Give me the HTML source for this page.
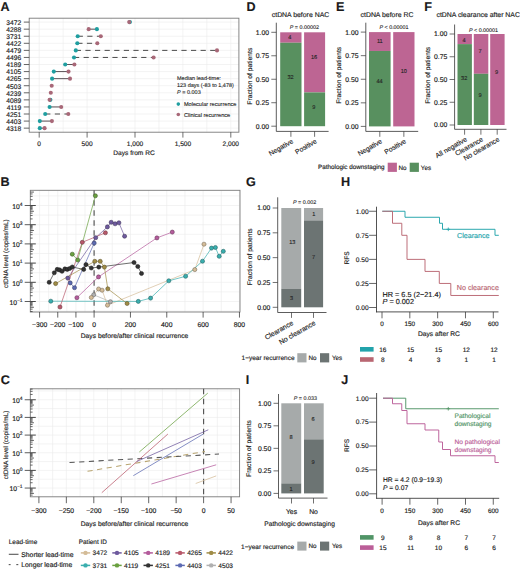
<!DOCTYPE html>
<html><head><meta charset="utf-8"><style>
html,body{margin:0;padding:0;background:#fff;}
svg{display:block;}
text{font-family:"Liberation Sans", sans-serif; text-rendering:geometricPrecision;}
</style></head><body>
<svg width="520" height="572" viewBox="0 0 520 572">
<rect x="0" y="0" width="520" height="572" fill="#ffffff"/>
<text x="0.60" y="11.22" font-size="12.6" text-anchor="start" fill="#1a1a1a" stroke="#1a1a1a" stroke-width="0.15" font-weight="bold">A</text>
<line x1="39.20" y1="18.20" x2="39.20" y2="132.20" stroke="#ebebeb" stroke-width="0.6"/>
<line x1="63.15" y1="18.20" x2="63.15" y2="132.20" stroke="#ebebeb" stroke-width="0.6"/>
<line x1="87.10" y1="18.20" x2="87.10" y2="132.20" stroke="#ebebeb" stroke-width="0.6"/>
<line x1="111.05" y1="18.20" x2="111.05" y2="132.20" stroke="#ebebeb" stroke-width="0.6"/>
<line x1="135.00" y1="18.20" x2="135.00" y2="132.20" stroke="#ebebeb" stroke-width="0.6"/>
<line x1="158.95" y1="18.20" x2="158.95" y2="132.20" stroke="#ebebeb" stroke-width="0.6"/>
<line x1="182.90" y1="18.20" x2="182.90" y2="132.20" stroke="#ebebeb" stroke-width="0.6"/>
<line x1="206.85" y1="18.20" x2="206.85" y2="132.20" stroke="#ebebeb" stroke-width="0.6"/>
<line x1="230.80" y1="18.20" x2="230.80" y2="132.20" stroke="#ebebeb" stroke-width="0.6"/>
<line x1="29.20" y1="22.10" x2="238.90" y2="22.10" stroke="#ebebeb" stroke-width="0.6"/>
<line x1="29.20" y1="29.17" x2="238.90" y2="29.17" stroke="#ebebeb" stroke-width="0.6"/>
<line x1="29.20" y1="36.24" x2="238.90" y2="36.24" stroke="#ebebeb" stroke-width="0.6"/>
<line x1="29.20" y1="43.31" x2="238.90" y2="43.31" stroke="#ebebeb" stroke-width="0.6"/>
<line x1="29.20" y1="50.38" x2="238.90" y2="50.38" stroke="#ebebeb" stroke-width="0.6"/>
<line x1="29.20" y1="57.45" x2="238.90" y2="57.45" stroke="#ebebeb" stroke-width="0.6"/>
<line x1="29.20" y1="64.52" x2="238.90" y2="64.52" stroke="#ebebeb" stroke-width="0.6"/>
<line x1="29.20" y1="71.59" x2="238.90" y2="71.59" stroke="#ebebeb" stroke-width="0.6"/>
<line x1="29.20" y1="78.66" x2="238.90" y2="78.66" stroke="#ebebeb" stroke-width="0.6"/>
<line x1="29.20" y1="85.73" x2="238.90" y2="85.73" stroke="#ebebeb" stroke-width="0.6"/>
<line x1="29.20" y1="92.80" x2="238.90" y2="92.80" stroke="#ebebeb" stroke-width="0.6"/>
<line x1="29.20" y1="99.87" x2="238.90" y2="99.87" stroke="#ebebeb" stroke-width="0.6"/>
<line x1="29.20" y1="106.94" x2="238.90" y2="106.94" stroke="#ebebeb" stroke-width="0.6"/>
<line x1="29.20" y1="114.01" x2="238.90" y2="114.01" stroke="#ebebeb" stroke-width="0.6"/>
<line x1="29.20" y1="121.08" x2="238.90" y2="121.08" stroke="#ebebeb" stroke-width="0.6"/>
<line x1="29.20" y1="128.15" x2="238.90" y2="128.15" stroke="#ebebeb" stroke-width="0.6"/>
<rect x="29.20" y="18.20" width="209.70" height="114.00" fill="none" stroke="#7a7a7a" stroke-width="0.9"/>
<line x1="23.80" y1="22.10" x2="29.20" y2="22.10" stroke="#333333" stroke-width="0.75"/>
<text x="21.20" y="24.90" font-size="6.7" text-anchor="end" fill="#1a1a1a" stroke="#1a1a1a" stroke-width="0.15">3472</text>
<line x1="23.80" y1="29.17" x2="29.20" y2="29.17" stroke="#333333" stroke-width="0.75"/>
<text x="21.20" y="31.97" font-size="6.7" text-anchor="end" fill="#1a1a1a" stroke="#1a1a1a" stroke-width="0.15">4288</text>
<line x1="23.80" y1="36.24" x2="29.20" y2="36.24" stroke="#333333" stroke-width="0.75"/>
<text x="21.20" y="39.04" font-size="6.7" text-anchor="end" fill="#1a1a1a" stroke="#1a1a1a" stroke-width="0.15">3731</text>
<line x1="23.80" y1="43.31" x2="29.20" y2="43.31" stroke="#333333" stroke-width="0.75"/>
<text x="21.20" y="46.11" font-size="6.7" text-anchor="end" fill="#1a1a1a" stroke="#1a1a1a" stroke-width="0.15">4422</text>
<line x1="23.80" y1="50.38" x2="29.20" y2="50.38" stroke="#333333" stroke-width="0.75"/>
<text x="21.20" y="53.18" font-size="6.7" text-anchor="end" fill="#1a1a1a" stroke="#1a1a1a" stroke-width="0.15">4479</text>
<line x1="23.80" y1="57.45" x2="29.20" y2="57.45" stroke="#333333" stroke-width="0.75"/>
<text x="21.20" y="60.25" font-size="6.7" text-anchor="end" fill="#1a1a1a" stroke="#1a1a1a" stroke-width="0.15">4496</text>
<line x1="23.80" y1="64.52" x2="29.20" y2="64.52" stroke="#333333" stroke-width="0.75"/>
<text x="21.20" y="67.32" font-size="6.7" text-anchor="end" fill="#1a1a1a" stroke="#1a1a1a" stroke-width="0.15">4189</text>
<line x1="23.80" y1="71.59" x2="29.20" y2="71.59" stroke="#333333" stroke-width="0.75"/>
<text x="21.20" y="74.39" font-size="6.7" text-anchor="end" fill="#1a1a1a" stroke="#1a1a1a" stroke-width="0.15">4105</text>
<line x1="23.80" y1="78.66" x2="29.20" y2="78.66" stroke="#333333" stroke-width="0.75"/>
<text x="21.20" y="81.46" font-size="6.7" text-anchor="end" fill="#1a1a1a" stroke="#1a1a1a" stroke-width="0.15">4265</text>
<line x1="23.80" y1="85.73" x2="29.20" y2="85.73" stroke="#333333" stroke-width="0.75"/>
<text x="21.20" y="88.53" font-size="6.7" text-anchor="end" fill="#1a1a1a" stroke="#1a1a1a" stroke-width="0.15">4503</text>
<line x1="23.80" y1="92.80" x2="29.20" y2="92.80" stroke="#333333" stroke-width="0.75"/>
<text x="21.20" y="95.60" font-size="6.7" text-anchor="end" fill="#1a1a1a" stroke="#1a1a1a" stroke-width="0.15">4239</text>
<line x1="23.80" y1="99.87" x2="29.20" y2="99.87" stroke="#333333" stroke-width="0.75"/>
<text x="21.20" y="102.67" font-size="6.7" text-anchor="end" fill="#1a1a1a" stroke="#1a1a1a" stroke-width="0.15">4089</text>
<line x1="23.80" y1="106.94" x2="29.20" y2="106.94" stroke="#333333" stroke-width="0.75"/>
<text x="21.20" y="109.74" font-size="6.7" text-anchor="end" fill="#1a1a1a" stroke="#1a1a1a" stroke-width="0.15">4119</text>
<line x1="23.80" y1="114.01" x2="29.20" y2="114.01" stroke="#333333" stroke-width="0.75"/>
<text x="21.20" y="116.81" font-size="6.7" text-anchor="end" fill="#1a1a1a" stroke="#1a1a1a" stroke-width="0.15">4251</text>
<line x1="23.80" y1="121.08" x2="29.20" y2="121.08" stroke="#333333" stroke-width="0.75"/>
<text x="21.20" y="123.88" font-size="6.7" text-anchor="end" fill="#1a1a1a" stroke="#1a1a1a" stroke-width="0.15">4403</text>
<line x1="23.80" y1="128.15" x2="29.20" y2="128.15" stroke="#333333" stroke-width="0.75"/>
<text x="21.20" y="130.95" font-size="6.7" text-anchor="end" fill="#1a1a1a" stroke="#1a1a1a" stroke-width="0.15">4318</text>
<line x1="39.20" y1="132.20" x2="39.20" y2="137.60" stroke="#333333" stroke-width="0.7"/>
<text x="39.20" y="145.76" font-size="6.6" text-anchor="middle" fill="#1a1a1a" stroke="#1a1a1a" stroke-width="0.15">0</text>
<line x1="87.10" y1="132.20" x2="87.10" y2="137.60" stroke="#333333" stroke-width="0.7"/>
<text x="87.10" y="145.76" font-size="6.6" text-anchor="middle" fill="#1a1a1a" stroke="#1a1a1a" stroke-width="0.15">500</text>
<line x1="135.00" y1="132.20" x2="135.00" y2="137.60" stroke="#333333" stroke-width="0.7"/>
<text x="135.00" y="145.76" font-size="6.6" text-anchor="middle" fill="#1a1a1a" stroke="#1a1a1a" stroke-width="0.15">1,000</text>
<line x1="182.90" y1="132.20" x2="182.90" y2="137.60" stroke="#333333" stroke-width="0.7"/>
<text x="182.90" y="145.76" font-size="6.6" text-anchor="middle" fill="#1a1a1a" stroke="#1a1a1a" stroke-width="0.15">1,500</text>
<line x1="230.80" y1="132.20" x2="230.80" y2="137.60" stroke="#333333" stroke-width="0.7"/>
<text x="230.80" y="145.76" font-size="6.6" text-anchor="middle" fill="#1a1a1a" stroke="#1a1a1a" stroke-width="0.15">2,000</text>
<text x="134.00" y="154.96" font-size="6.6" text-anchor="middle" fill="#1a1a1a" stroke="#1a1a1a" stroke-width="0.15">Days from RC</text>
<line x1="96.90" y1="29.17" x2="88.70" y2="29.17" stroke="#5a5055" stroke-width="1.0"/>
<line x1="77.70" y1="36.24" x2="100.80" y2="36.24" stroke="#4a4a4a" stroke-width="1.0" stroke-dasharray="5.2,4.4"/>
<line x1="77.30" y1="43.31" x2="97.30" y2="43.31" stroke="#4a4a4a" stroke-width="1.0" stroke-dasharray="5.2,4.4"/>
<line x1="75.80" y1="50.38" x2="217.00" y2="50.38" stroke="#4a4a4a" stroke-width="1.0" stroke-dasharray="5.2,4.4"/>
<line x1="74.00" y1="57.45" x2="153.60" y2="57.45" stroke="#4a4a4a" stroke-width="1.0" stroke-dasharray="5.2,4.4"/>
<line x1="65.20" y1="64.52" x2="74.40" y2="64.52" stroke="#5a5055" stroke-width="1.0"/>
<line x1="53.80" y1="71.59" x2="68.50" y2="71.59" stroke="#5a5055" stroke-width="1.0"/>
<line x1="52.10" y1="78.66" x2="70.00" y2="78.66" stroke="#5a5055" stroke-width="1.0"/>
<line x1="49.60" y1="106.94" x2="61.20" y2="106.94" stroke="#5a5055" stroke-width="1.0"/>
<line x1="45.20" y1="114.01" x2="68.30" y2="114.01" stroke="#4a4a4a" stroke-width="1.0" stroke-dasharray="5.2,4.4"/>
<line x1="39.80" y1="121.08" x2="51.90" y2="121.08" stroke="#5a5055" stroke-width="1.0"/>
<line x1="39.80" y1="128.15" x2="44.60" y2="128.15" stroke="#5a5055" stroke-width="1.0"/>
<circle cx="129.90" cy="22.10" r="2.05" fill="#1f9ea0"/>
<circle cx="129.20" cy="22.10" r="2.05" fill="#a86878"/>
<circle cx="96.90" cy="29.17" r="2.05" fill="#1f9ea0"/>
<circle cx="88.70" cy="29.17" r="2.05" fill="#a86878"/>
<circle cx="77.70" cy="36.24" r="2.05" fill="#1f9ea0"/>
<circle cx="100.80" cy="36.24" r="2.05" fill="#a86878"/>
<circle cx="77.30" cy="43.31" r="2.05" fill="#1f9ea0"/>
<circle cx="97.30" cy="43.31" r="2.05" fill="#a86878"/>
<circle cx="75.80" cy="50.38" r="2.05" fill="#1f9ea0"/>
<circle cx="217.00" cy="50.38" r="2.05" fill="#a86878"/>
<circle cx="74.00" cy="57.45" r="2.05" fill="#1f9ea0"/>
<circle cx="153.60" cy="57.45" r="2.05" fill="#a86878"/>
<circle cx="65.20" cy="64.52" r="2.05" fill="#1f9ea0"/>
<circle cx="74.40" cy="64.52" r="2.05" fill="#a86878"/>
<circle cx="53.80" cy="71.59" r="2.05" fill="#1f9ea0"/>
<circle cx="68.50" cy="71.59" r="2.05" fill="#a86878"/>
<circle cx="52.10" cy="78.66" r="2.05" fill="#1f9ea0"/>
<circle cx="70.00" cy="78.66" r="2.05" fill="#a86878"/>
<circle cx="51.70" cy="85.73" r="2.05" fill="#a86878"/>
<circle cx="50.80" cy="92.80" r="2.05" fill="#a86878"/>
<circle cx="50.40" cy="99.87" r="2.05" fill="#1f9ea0"/>
<circle cx="49.60" cy="99.87" r="2.05" fill="#a86878"/>
<circle cx="49.60" cy="106.94" r="2.05" fill="#1f9ea0"/>
<circle cx="61.20" cy="106.94" r="2.05" fill="#a86878"/>
<circle cx="45.20" cy="114.01" r="2.05" fill="#1f9ea0"/>
<circle cx="68.30" cy="114.01" r="2.05" fill="#a86878"/>
<circle cx="39.80" cy="121.08" r="2.05" fill="#1f9ea0"/>
<circle cx="51.90" cy="121.08" r="2.05" fill="#a86878"/>
<circle cx="39.80" cy="128.15" r="2.05" fill="#1f9ea0"/>
<circle cx="44.60" cy="128.15" r="2.05" fill="#a86878"/>
<text x="177.00" y="80.27" font-size="5.5" text-anchor="start" fill="#1a1a1a" stroke="#1a1a1a" stroke-width="0.1">Median lead-time:</text>
<text x="177.00" y="87.17" font-size="5.5" text-anchor="start" fill="#1a1a1a" stroke="#1a1a1a" stroke-width="0.1">123 days (-83 to 1,478)</text>
<text x="177.00" y="94.07" font-size="5.5" fill="#1a1a1a" stroke="#1a1a1a" stroke-width="0.1"><tspan font-style="italic">P</tspan> = 0.003</text>
<circle cx="178.30" cy="104.10" r="1.8" fill="#1f9ea0"/>
<text x="183.90" y="106.10" font-size="5.6" text-anchor="start" fill="#1a1a1a" stroke="#1a1a1a" stroke-width="0.1">Molecular recurrence</text>
<circle cx="178.30" cy="114.50" r="1.8" fill="#a86878"/>
<text x="183.90" y="116.50" font-size="5.6" text-anchor="start" fill="#1a1a1a" stroke="#1a1a1a" stroke-width="0.1">Clinical recurrence</text>
<text x="246.40" y="11.22" font-size="12.6" text-anchor="start" fill="#1a1a1a" stroke="#1a1a1a" stroke-width="0.15" font-weight="bold">D</text>
<text x="300.50" y="16.87" font-size="6.9" text-anchor="middle" fill="#1a1a1a" stroke="#1a1a1a" stroke-width="0.15">ctDNA before NAC</text>
<text x="252.20" y="76.20" font-size="6.7" text-anchor="middle" fill="#1a1a1a" stroke="#1a1a1a" stroke-width="0.15" transform="rotate(-90 252.20 76.20)">Fraction of patients</text>
<rect x="280.20" y="32.30" width="21.30" height="10.43" fill="#bd6593"/>
<rect x="280.20" y="42.73" width="21.30" height="83.47" fill="#58905f"/>
<text x="289.80" y="38.60" font-size="5.6" text-anchor="middle" fill="#222" stroke="#222" stroke-width="0.1">4</text>
<text x="290.60" y="79.00" font-size="5.6" text-anchor="middle" fill="#222" stroke="#222" stroke-width="0.1">32</text>
<rect x="304.10" y="32.30" width="21.00" height="60.10" fill="#bd6593"/>
<rect x="304.10" y="92.40" width="21.00" height="33.80" fill="#58905f"/>
<text x="314.00" y="58.70" font-size="5.6" text-anchor="middle" fill="#222" stroke="#222" stroke-width="0.1">16</text>
<text x="313.80" y="109.00" font-size="5.6" text-anchor="middle" fill="#222" stroke="#222" stroke-width="0.1">9</text>
<line x1="276.30" y1="22.70" x2="276.30" y2="131.40" stroke="#333333" stroke-width="0.8"/>
<line x1="276.30" y1="131.40" x2="328.60" y2="131.40" stroke="#333333" stroke-width="0.8"/>
<line x1="271.30" y1="126.20" x2="276.30" y2="126.20" stroke="#333333" stroke-width="0.7"/>
<text x="269.00" y="128.63" font-size="6.8" text-anchor="end" fill="#1a1a1a" stroke="#1a1a1a" stroke-width="0.15">0.00</text>
<line x1="271.30" y1="102.72" x2="276.30" y2="102.72" stroke="#333333" stroke-width="0.7"/>
<text x="269.00" y="105.16" font-size="6.8" text-anchor="end" fill="#1a1a1a" stroke="#1a1a1a" stroke-width="0.15">0.25</text>
<line x1="271.30" y1="79.25" x2="276.30" y2="79.25" stroke="#333333" stroke-width="0.7"/>
<text x="269.00" y="81.68" font-size="6.8" text-anchor="end" fill="#1a1a1a" stroke="#1a1a1a" stroke-width="0.15">0.50</text>
<line x1="271.30" y1="55.77" x2="276.30" y2="55.77" stroke="#333333" stroke-width="0.7"/>
<text x="269.00" y="58.21" font-size="6.8" text-anchor="end" fill="#1a1a1a" stroke="#1a1a1a" stroke-width="0.15">0.75</text>
<line x1="271.30" y1="32.30" x2="276.30" y2="32.30" stroke="#333333" stroke-width="0.7"/>
<text x="269.00" y="34.73" font-size="6.8" text-anchor="end" fill="#1a1a1a" stroke="#1a1a1a" stroke-width="0.15">1.00</text>
<line x1="290.90" y1="131.40" x2="290.90" y2="136.80" stroke="#333333" stroke-width="0.7"/>
<line x1="314.60" y1="131.40" x2="314.60" y2="136.80" stroke="#333333" stroke-width="0.7"/>
<text x="304.40" y="28.83" font-size="5.4" text-anchor="middle" fill="#1a1a1a" stroke="#1a1a1a" stroke-width="0.1"><tspan font-style="italic">P</tspan> = 0.00002</text>
<text x="293.73" y="142.62" font-size="6.8" text-anchor="end" fill="#1a1a1a" stroke="#1a1a1a" stroke-width="0.15" transform="rotate(-30 293.73 142.62)" >Negative</text>
<text x="317.33" y="142.62" font-size="6.8" text-anchor="end" fill="#1a1a1a" stroke="#1a1a1a" stroke-width="0.15" transform="rotate(-30 317.33 142.62)" >Positive</text>
<text x="336.00" y="11.22" font-size="12.6" text-anchor="start" fill="#1a1a1a" stroke="#1a1a1a" stroke-width="0.15" font-weight="bold">E</text>
<text x="387.00" y="17.47" font-size="6.9" text-anchor="middle" fill="#1a1a1a" stroke="#1a1a1a" stroke-width="0.15">ctDNA before RC</text>
<text x="340.80" y="75.30" font-size="6.7" text-anchor="middle" fill="#1a1a1a" stroke="#1a1a1a" stroke-width="0.15" transform="rotate(-90 340.80 75.30)">Fraction of patients</text>
<rect x="369.00" y="32.10" width="21.60" height="18.86" fill="#bd6593"/>
<rect x="369.00" y="50.96" width="21.60" height="75.44" fill="#58905f"/>
<text x="379.80" y="42.70" font-size="5.6" text-anchor="middle" fill="#222" stroke="#222" stroke-width="0.1">11</text>
<text x="379.60" y="83.20" font-size="5.6" text-anchor="middle" fill="#222" stroke="#222" stroke-width="0.1">44</text>
<rect x="393.20" y="32.10" width="21.30" height="94.30" fill="#bd6593"/>
<text x="403.80" y="72.80" font-size="5.6" text-anchor="middle" fill="#222" stroke="#222" stroke-width="0.1">10</text>
<line x1="365.80" y1="22.70" x2="365.80" y2="131.40" stroke="#333333" stroke-width="0.8"/>
<line x1="365.80" y1="131.40" x2="418.20" y2="131.40" stroke="#333333" stroke-width="0.8"/>
<line x1="360.80" y1="126.40" x2="365.80" y2="126.40" stroke="#333333" stroke-width="0.7"/>
<text x="358.50" y="128.83" font-size="6.8" text-anchor="end" fill="#1a1a1a" stroke="#1a1a1a" stroke-width="0.15">0.00</text>
<line x1="360.80" y1="102.83" x2="365.80" y2="102.83" stroke="#333333" stroke-width="0.7"/>
<text x="358.50" y="105.26" font-size="6.8" text-anchor="end" fill="#1a1a1a" stroke="#1a1a1a" stroke-width="0.15">0.25</text>
<line x1="360.80" y1="79.25" x2="365.80" y2="79.25" stroke="#333333" stroke-width="0.7"/>
<text x="358.50" y="81.68" font-size="6.8" text-anchor="end" fill="#1a1a1a" stroke="#1a1a1a" stroke-width="0.15">0.50</text>
<line x1="360.80" y1="55.67" x2="365.80" y2="55.67" stroke="#333333" stroke-width="0.7"/>
<text x="358.50" y="58.11" font-size="6.8" text-anchor="end" fill="#1a1a1a" stroke="#1a1a1a" stroke-width="0.15">0.75</text>
<line x1="360.80" y1="32.10" x2="365.80" y2="32.10" stroke="#333333" stroke-width="0.7"/>
<text x="358.50" y="34.53" font-size="6.8" text-anchor="end" fill="#1a1a1a" stroke="#1a1a1a" stroke-width="0.15">1.00</text>
<line x1="379.80" y1="131.40" x2="379.80" y2="136.80" stroke="#333333" stroke-width="0.7"/>
<line x1="403.85" y1="131.40" x2="403.85" y2="136.80" stroke="#333333" stroke-width="0.7"/>
<text x="394.00" y="29.13" font-size="5.4" text-anchor="middle" fill="#1a1a1a" stroke="#1a1a1a" stroke-width="0.1"><tspan font-style="italic">P</tspan> &lt; 0.00001</text>
<text x="382.63" y="142.62" font-size="6.8" text-anchor="end" fill="#1a1a1a" stroke="#1a1a1a" stroke-width="0.15" transform="rotate(-30 382.63 142.62)" >Negative</text>
<text x="406.63" y="142.62" font-size="6.8" text-anchor="end" fill="#1a1a1a" stroke="#1a1a1a" stroke-width="0.15" transform="rotate(-30 406.63 142.62)" >Positive</text>
<text x="424.20" y="11.22" font-size="12.6" text-anchor="start" fill="#1a1a1a" stroke="#1a1a1a" stroke-width="0.15" font-weight="bold">F</text>
<text x="478.20" y="16.87" font-size="6.9" text-anchor="middle" fill="#1a1a1a" stroke="#1a1a1a" stroke-width="0.15">ctDNA clearance after NAC</text>
<text x="429.60" y="75.30" font-size="6.7" text-anchor="middle" fill="#1a1a1a" stroke="#1a1a1a" stroke-width="0.15" transform="rotate(-90 429.60 75.30)">Fraction of patients</text>
<rect x="457.50" y="34.00" width="14.40" height="10.11" fill="#bd6593"/>
<rect x="457.50" y="44.11" width="14.40" height="80.89" fill="#58905f"/>
<text x="464.00" y="41.60" font-size="5.6" text-anchor="middle" fill="#222" stroke="#222" stroke-width="0.1">4</text>
<text x="464.20" y="79.70" font-size="5.6" text-anchor="middle" fill="#222" stroke="#222" stroke-width="0.1">32</text>
<rect x="473.80" y="34.00" width="14.50" height="39.81" fill="#bd6593"/>
<rect x="473.80" y="73.81" width="14.50" height="51.19" fill="#58905f"/>
<text x="480.00" y="53.00" font-size="5.6" text-anchor="middle" fill="#222" stroke="#222" stroke-width="0.1">7</text>
<text x="480.00" y="97.20" font-size="5.6" text-anchor="middle" fill="#222" stroke="#222" stroke-width="0.1">9</text>
<rect x="490.20" y="34.00" width="14.40" height="91.00" fill="#bd6593"/>
<text x="496.50" y="73.50" font-size="5.6" text-anchor="middle" fill="#222" stroke="#222" stroke-width="0.1">9</text>
<line x1="454.60" y1="24.50" x2="454.60" y2="129.30" stroke="#333333" stroke-width="0.8"/>
<line x1="454.60" y1="129.30" x2="506.50" y2="129.30" stroke="#333333" stroke-width="0.8"/>
<line x1="449.60" y1="125.00" x2="454.60" y2="125.00" stroke="#333333" stroke-width="0.7"/>
<text x="447.30" y="127.43" font-size="6.8" text-anchor="end" fill="#1a1a1a" stroke="#1a1a1a" stroke-width="0.15">0.00</text>
<line x1="449.60" y1="102.25" x2="454.60" y2="102.25" stroke="#333333" stroke-width="0.7"/>
<text x="447.30" y="104.68" font-size="6.8" text-anchor="end" fill="#1a1a1a" stroke="#1a1a1a" stroke-width="0.15">0.25</text>
<line x1="449.60" y1="79.50" x2="454.60" y2="79.50" stroke="#333333" stroke-width="0.7"/>
<text x="447.30" y="81.93" font-size="6.8" text-anchor="end" fill="#1a1a1a" stroke="#1a1a1a" stroke-width="0.15">0.50</text>
<line x1="449.60" y1="56.75" x2="454.60" y2="56.75" stroke="#333333" stroke-width="0.7"/>
<text x="447.30" y="59.18" font-size="6.8" text-anchor="end" fill="#1a1a1a" stroke="#1a1a1a" stroke-width="0.15">0.75</text>
<line x1="449.60" y1="34.00" x2="454.60" y2="34.00" stroke="#333333" stroke-width="0.7"/>
<text x="447.30" y="36.43" font-size="6.8" text-anchor="end" fill="#1a1a1a" stroke="#1a1a1a" stroke-width="0.15">1.00</text>
<line x1="464.60" y1="129.30" x2="464.60" y2="134.70" stroke="#333333" stroke-width="0.7"/>
<line x1="480.90" y1="129.30" x2="480.90" y2="134.70" stroke="#333333" stroke-width="0.7"/>
<line x1="497.20" y1="129.30" x2="497.20" y2="134.70" stroke="#333333" stroke-width="0.7"/>
<text x="483.50" y="31.73" font-size="5.4" text-anchor="middle" fill="#1a1a1a" stroke="#1a1a1a" stroke-width="0.1"><tspan font-style="italic">P</tspan> &lt; 0.00001</text>
<text x="467.43" y="140.62" font-size="6.8" text-anchor="end" fill="#1a1a1a" stroke="#1a1a1a" stroke-width="0.15" transform="rotate(-30 467.43 140.62)" >All negative</text>
<text x="483.63" y="140.62" font-size="6.8" text-anchor="end" fill="#1a1a1a" stroke="#1a1a1a" stroke-width="0.15" transform="rotate(-30 483.63 140.62)" >Clearance</text>
<text x="500.03" y="140.62" font-size="6.8" text-anchor="end" fill="#1a1a1a" stroke="#1a1a1a" stroke-width="0.15" transform="rotate(-30 500.03 140.62)" >No clearance</text>
<text x="384.60" y="169.46" font-size="6.3" text-anchor="end" fill="#1a1a1a" stroke="#1a1a1a" stroke-width="0.15">Pathologic downstaging</text>
<rect x="387.70" y="162.70" width="9.20" height="9.20" fill="#bd6593"/>
<text x="398.50" y="169.56" font-size="6.3" text-anchor="start" fill="#1a1a1a" stroke="#1a1a1a" stroke-width="0.15">No</text>
<rect x="409.70" y="162.70" width="9.20" height="9.20" fill="#58905f"/>
<text x="420.80" y="169.56" font-size="6.3" text-anchor="start" fill="#1a1a1a" stroke="#1a1a1a" stroke-width="0.15">Yes</text>
<text x="0.60" y="186.32" font-size="12.6" text-anchor="start" fill="#1a1a1a" stroke="#1a1a1a" stroke-width="0.15" font-weight="bold">B</text>
<line x1="39.59" y1="190.30" x2="39.59" y2="312.00" stroke="#ebebeb" stroke-width="0.6"/>
<line x1="48.67" y1="190.30" x2="48.67" y2="312.00" stroke="#ebebeb" stroke-width="0.6"/>
<line x1="57.76" y1="190.30" x2="57.76" y2="312.00" stroke="#ebebeb" stroke-width="0.6"/>
<line x1="66.84" y1="190.30" x2="66.84" y2="312.00" stroke="#ebebeb" stroke-width="0.6"/>
<line x1="75.93" y1="190.30" x2="75.93" y2="312.00" stroke="#ebebeb" stroke-width="0.6"/>
<line x1="85.01" y1="190.30" x2="85.01" y2="312.00" stroke="#ebebeb" stroke-width="0.6"/>
<line x1="94.10" y1="190.30" x2="94.10" y2="312.00" stroke="#ebebeb" stroke-width="0.6"/>
<line x1="112.27" y1="190.30" x2="112.27" y2="312.00" stroke="#ebebeb" stroke-width="0.6"/>
<line x1="130.44" y1="190.30" x2="130.44" y2="312.00" stroke="#ebebeb" stroke-width="0.6"/>
<line x1="148.61" y1="190.30" x2="148.61" y2="312.00" stroke="#ebebeb" stroke-width="0.6"/>
<line x1="166.78" y1="190.30" x2="166.78" y2="312.00" stroke="#ebebeb" stroke-width="0.6"/>
<line x1="184.95" y1="190.30" x2="184.95" y2="312.00" stroke="#ebebeb" stroke-width="0.6"/>
<line x1="203.12" y1="190.30" x2="203.12" y2="312.00" stroke="#ebebeb" stroke-width="0.6"/>
<line x1="221.29" y1="190.30" x2="221.29" y2="312.00" stroke="#ebebeb" stroke-width="0.6"/>
<line x1="239.46" y1="190.30" x2="239.46" y2="312.00" stroke="#ebebeb" stroke-width="0.6"/>
<line x1="30.30" y1="311.10" x2="240.00" y2="311.10" stroke="#ebebeb" stroke-width="0.6"/>
<line x1="30.30" y1="301.50" x2="240.00" y2="301.50" stroke="#ebebeb" stroke-width="0.6"/>
<line x1="30.30" y1="291.90" x2="240.00" y2="291.90" stroke="#ebebeb" stroke-width="0.6"/>
<line x1="30.30" y1="282.30" x2="240.00" y2="282.30" stroke="#ebebeb" stroke-width="0.6"/>
<line x1="30.30" y1="272.70" x2="240.00" y2="272.70" stroke="#ebebeb" stroke-width="0.6"/>
<line x1="30.30" y1="263.10" x2="240.00" y2="263.10" stroke="#ebebeb" stroke-width="0.6"/>
<line x1="30.30" y1="253.50" x2="240.00" y2="253.50" stroke="#ebebeb" stroke-width="0.6"/>
<line x1="30.30" y1="243.90" x2="240.00" y2="243.90" stroke="#ebebeb" stroke-width="0.6"/>
<line x1="30.30" y1="234.30" x2="240.00" y2="234.30" stroke="#ebebeb" stroke-width="0.6"/>
<line x1="30.30" y1="224.70" x2="240.00" y2="224.70" stroke="#ebebeb" stroke-width="0.6"/>
<line x1="30.30" y1="215.10" x2="240.00" y2="215.10" stroke="#ebebeb" stroke-width="0.6"/>
<line x1="30.30" y1="205.50" x2="240.00" y2="205.50" stroke="#ebebeb" stroke-width="0.6"/>
<line x1="30.30" y1="195.90" x2="240.00" y2="195.90" stroke="#ebebeb" stroke-width="0.6"/>
<rect x="30.30" y="190.30" width="209.70" height="121.70" fill="none" stroke="#7a7a7a" stroke-width="0.9"/>
<line x1="30.30" y1="311.54" x2="32.60" y2="311.54" stroke="#333333" stroke-width="0.75"/>
<line x1="30.30" y1="309.14" x2="32.60" y2="309.14" stroke="#333333" stroke-width="0.75"/>
<line x1="30.30" y1="307.28" x2="33.90" y2="307.28" stroke="#333333" stroke-width="0.8"/>
<line x1="30.30" y1="305.76" x2="32.60" y2="305.76" stroke="#333333" stroke-width="0.75"/>
<line x1="30.30" y1="304.47" x2="32.60" y2="304.47" stroke="#333333" stroke-width="0.75"/>
<line x1="30.30" y1="303.36" x2="32.60" y2="303.36" stroke="#333333" stroke-width="0.75"/>
<line x1="30.30" y1="302.38" x2="32.60" y2="302.38" stroke="#333333" stroke-width="0.75"/>
<line x1="30.30" y1="301.50" x2="35.80" y2="301.50" stroke="#333333" stroke-width="0.9"/>
<line x1="30.30" y1="295.72" x2="32.60" y2="295.72" stroke="#333333" stroke-width="0.75"/>
<line x1="30.30" y1="292.34" x2="32.60" y2="292.34" stroke="#333333" stroke-width="0.75"/>
<line x1="30.30" y1="289.94" x2="32.60" y2="289.94" stroke="#333333" stroke-width="0.75"/>
<line x1="30.30" y1="288.08" x2="33.90" y2="288.08" stroke="#333333" stroke-width="0.8"/>
<line x1="30.30" y1="286.56" x2="32.60" y2="286.56" stroke="#333333" stroke-width="0.75"/>
<line x1="30.30" y1="285.27" x2="32.60" y2="285.27" stroke="#333333" stroke-width="0.75"/>
<line x1="30.30" y1="284.16" x2="32.60" y2="284.16" stroke="#333333" stroke-width="0.75"/>
<line x1="30.30" y1="283.18" x2="32.60" y2="283.18" stroke="#333333" stroke-width="0.75"/>
<line x1="30.30" y1="282.30" x2="35.80" y2="282.30" stroke="#333333" stroke-width="0.9"/>
<line x1="30.30" y1="276.52" x2="32.60" y2="276.52" stroke="#333333" stroke-width="0.75"/>
<line x1="30.30" y1="273.14" x2="32.60" y2="273.14" stroke="#333333" stroke-width="0.75"/>
<line x1="30.30" y1="270.74" x2="32.60" y2="270.74" stroke="#333333" stroke-width="0.75"/>
<line x1="30.30" y1="268.88" x2="33.90" y2="268.88" stroke="#333333" stroke-width="0.8"/>
<line x1="30.30" y1="267.36" x2="32.60" y2="267.36" stroke="#333333" stroke-width="0.75"/>
<line x1="30.30" y1="266.07" x2="32.60" y2="266.07" stroke="#333333" stroke-width="0.75"/>
<line x1="30.30" y1="264.96" x2="32.60" y2="264.96" stroke="#333333" stroke-width="0.75"/>
<line x1="30.30" y1="263.98" x2="32.60" y2="263.98" stroke="#333333" stroke-width="0.75"/>
<line x1="30.30" y1="263.10" x2="35.80" y2="263.10" stroke="#333333" stroke-width="0.9"/>
<line x1="30.30" y1="257.32" x2="32.60" y2="257.32" stroke="#333333" stroke-width="0.75"/>
<line x1="30.30" y1="253.94" x2="32.60" y2="253.94" stroke="#333333" stroke-width="0.75"/>
<line x1="30.30" y1="251.54" x2="32.60" y2="251.54" stroke="#333333" stroke-width="0.75"/>
<line x1="30.30" y1="249.68" x2="33.90" y2="249.68" stroke="#333333" stroke-width="0.8"/>
<line x1="30.30" y1="248.16" x2="32.60" y2="248.16" stroke="#333333" stroke-width="0.75"/>
<line x1="30.30" y1="246.87" x2="32.60" y2="246.87" stroke="#333333" stroke-width="0.75"/>
<line x1="30.30" y1="245.76" x2="32.60" y2="245.76" stroke="#333333" stroke-width="0.75"/>
<line x1="30.30" y1="244.78" x2="32.60" y2="244.78" stroke="#333333" stroke-width="0.75"/>
<line x1="30.30" y1="243.90" x2="35.80" y2="243.90" stroke="#333333" stroke-width="0.9"/>
<line x1="30.30" y1="238.12" x2="32.60" y2="238.12" stroke="#333333" stroke-width="0.75"/>
<line x1="30.30" y1="234.74" x2="32.60" y2="234.74" stroke="#333333" stroke-width="0.75"/>
<line x1="30.30" y1="232.34" x2="32.60" y2="232.34" stroke="#333333" stroke-width="0.75"/>
<line x1="30.30" y1="230.48" x2="33.90" y2="230.48" stroke="#333333" stroke-width="0.8"/>
<line x1="30.30" y1="228.96" x2="32.60" y2="228.96" stroke="#333333" stroke-width="0.75"/>
<line x1="30.30" y1="227.67" x2="32.60" y2="227.67" stroke="#333333" stroke-width="0.75"/>
<line x1="30.30" y1="226.56" x2="32.60" y2="226.56" stroke="#333333" stroke-width="0.75"/>
<line x1="30.30" y1="225.58" x2="32.60" y2="225.58" stroke="#333333" stroke-width="0.75"/>
<line x1="30.30" y1="224.70" x2="35.80" y2="224.70" stroke="#333333" stroke-width="0.9"/>
<line x1="30.30" y1="218.92" x2="32.60" y2="218.92" stroke="#333333" stroke-width="0.75"/>
<line x1="30.30" y1="215.54" x2="32.60" y2="215.54" stroke="#333333" stroke-width="0.75"/>
<line x1="30.30" y1="213.14" x2="32.60" y2="213.14" stroke="#333333" stroke-width="0.75"/>
<line x1="30.30" y1="211.28" x2="33.90" y2="211.28" stroke="#333333" stroke-width="0.8"/>
<line x1="30.30" y1="209.76" x2="32.60" y2="209.76" stroke="#333333" stroke-width="0.75"/>
<line x1="30.30" y1="208.47" x2="32.60" y2="208.47" stroke="#333333" stroke-width="0.75"/>
<line x1="30.30" y1="207.36" x2="32.60" y2="207.36" stroke="#333333" stroke-width="0.75"/>
<line x1="30.30" y1="206.38" x2="32.60" y2="206.38" stroke="#333333" stroke-width="0.75"/>
<line x1="30.30" y1="205.50" x2="35.80" y2="205.50" stroke="#333333" stroke-width="0.9"/>
<line x1="30.30" y1="199.72" x2="32.60" y2="199.72" stroke="#333333" stroke-width="0.75"/>
<line x1="30.30" y1="196.34" x2="32.60" y2="196.34" stroke="#333333" stroke-width="0.75"/>
<line x1="30.30" y1="193.94" x2="32.60" y2="193.94" stroke="#333333" stroke-width="0.75"/>
<line x1="30.30" y1="192.08" x2="33.90" y2="192.08" stroke="#333333" stroke-width="0.8"/>
<line x1="24.70" y1="301.50" x2="30.30" y2="301.50" stroke="#333333" stroke-width="0.8"/>
<text x="22.60" y="304.73" font-size="6.8" text-anchor="end" fill="#1a1a1a" stroke="#1a1a1a" stroke-width="0.15">10<tspan font-size="4.90" dy="-2.9">−1</tspan></text>
<line x1="24.70" y1="282.30" x2="30.30" y2="282.30" stroke="#333333" stroke-width="0.8"/>
<text x="22.60" y="285.53" font-size="6.8" text-anchor="end" fill="#1a1a1a" stroke="#1a1a1a" stroke-width="0.15">10<tspan font-size="4.90" dy="-2.9">0</tspan></text>
<line x1="24.70" y1="263.10" x2="30.30" y2="263.10" stroke="#333333" stroke-width="0.8"/>
<text x="22.60" y="266.33" font-size="6.8" text-anchor="end" fill="#1a1a1a" stroke="#1a1a1a" stroke-width="0.15">10<tspan font-size="4.90" dy="-2.9">1</tspan></text>
<line x1="24.70" y1="243.90" x2="30.30" y2="243.90" stroke="#333333" stroke-width="0.8"/>
<text x="22.60" y="247.13" font-size="6.8" text-anchor="end" fill="#1a1a1a" stroke="#1a1a1a" stroke-width="0.15">10<tspan font-size="4.90" dy="-2.9">2</tspan></text>
<line x1="24.70" y1="224.70" x2="30.30" y2="224.70" stroke="#333333" stroke-width="0.8"/>
<text x="22.60" y="227.93" font-size="6.8" text-anchor="end" fill="#1a1a1a" stroke="#1a1a1a" stroke-width="0.15">10<tspan font-size="4.90" dy="-2.9">3</tspan></text>
<line x1="24.70" y1="205.50" x2="30.30" y2="205.50" stroke="#333333" stroke-width="0.8"/>
<text x="22.60" y="208.73" font-size="6.8" text-anchor="end" fill="#1a1a1a" stroke="#1a1a1a" stroke-width="0.15">10<tspan font-size="4.90" dy="-2.9">4</tspan></text>
<line x1="39.59" y1="312.00" x2="39.59" y2="317.60" stroke="#333333" stroke-width="0.75"/>
<text x="39.59" y="326.83" font-size="6.8" text-anchor="middle" fill="#1a1a1a" stroke="#1a1a1a" stroke-width="0.15">−300</text>
<line x1="57.76" y1="312.00" x2="57.76" y2="317.60" stroke="#333333" stroke-width="0.75"/>
<text x="57.76" y="326.83" font-size="6.8" text-anchor="middle" fill="#1a1a1a" stroke="#1a1a1a" stroke-width="0.15">−200</text>
<line x1="75.93" y1="312.00" x2="75.93" y2="317.60" stroke="#333333" stroke-width="0.75"/>
<text x="75.93" y="326.83" font-size="6.8" text-anchor="middle" fill="#1a1a1a" stroke="#1a1a1a" stroke-width="0.15">−100</text>
<line x1="94.10" y1="312.00" x2="94.10" y2="317.60" stroke="#333333" stroke-width="0.75"/>
<text x="94.10" y="326.83" font-size="6.8" text-anchor="middle" fill="#1a1a1a" stroke="#1a1a1a" stroke-width="0.15">0</text>
<line x1="130.44" y1="312.00" x2="130.44" y2="317.60" stroke="#333333" stroke-width="0.75"/>
<text x="130.44" y="326.83" font-size="6.8" text-anchor="middle" fill="#1a1a1a" stroke="#1a1a1a" stroke-width="0.15">200</text>
<line x1="166.78" y1="312.00" x2="166.78" y2="317.60" stroke="#333333" stroke-width="0.75"/>
<text x="166.78" y="326.83" font-size="6.8" text-anchor="middle" fill="#1a1a1a" stroke="#1a1a1a" stroke-width="0.15">400</text>
<line x1="203.12" y1="312.00" x2="203.12" y2="317.60" stroke="#333333" stroke-width="0.75"/>
<text x="203.12" y="326.83" font-size="6.8" text-anchor="middle" fill="#1a1a1a" stroke="#1a1a1a" stroke-width="0.15">600</text>
<line x1="239.46" y1="312.00" x2="239.46" y2="317.60" stroke="#333333" stroke-width="0.75"/>
<text x="239.46" y="326.83" font-size="6.8" text-anchor="middle" fill="#1a1a1a" stroke="#1a1a1a" stroke-width="0.15">800</text>
<text x="134.50" y="337.81" font-size="6.72" text-anchor="middle" fill="#1a1a1a" stroke="#1a1a1a" stroke-width="0.15">Days before/after clinical recurrence</text>
<text x="8.21" y="253.70" font-size="6.45" text-anchor="middle" fill="#1a1a1a" stroke="#1a1a1a" stroke-width="0.15" transform="rotate(-90 8.21 253.70)">ctDNA level (copies/mL)</text>
<line x1="94.10" y1="190.30" x2="94.10" y2="312.00" stroke="#555" stroke-width="1.15" stroke-dasharray="5.5,4.5"/>
<polyline points="93.70,294.80 110.40,301.70" fill="none" stroke="#b0b0b0" stroke-width="0.7" stroke-linejoin="miter"/>
<polyline points="91.30,297.50 98.60,289.00 102.10,290.20 107.50,305.20 194.80,269.60 204.00,244.20" fill="none" stroke="#d4bc98" stroke-width="0.7" stroke-linejoin="miter"/>
<polyline points="50.80,301.20 138.30,301.40 150.60,298.10 168.80,280.80 185.60,276.30 202.50,261.20 211.50,248.10 215.40,247.50 219.20,256.30 223.30,251.30" fill="none" stroke="#3aaeae" stroke-width="0.7" stroke-linejoin="miter"/>
<polyline points="76.90,297.70 98.50,276.90 156.90,237.90 172.30,232.10" fill="none" stroke="#b45c9c" stroke-width="0.7" stroke-linejoin="miter"/>
<polyline points="70.20,282.90 74.50,287.70 94.20,243.10" fill="none" stroke="#5c6ab2" stroke-width="0.7" stroke-linejoin="miter"/>
<polyline points="67.80,278.10 95.70,237.70 107.40,226.90 111.20,222.30 115.10,223.80 118.90,222.80 124.60,236.20" fill="none" stroke="#6e5a9e" stroke-width="0.7" stroke-linejoin="miter"/>
<polyline points="60.00,307.00 82.30,242.30 105.40,232.80" fill="none" stroke="#b8586a" stroke-width="0.7" stroke-linejoin="miter"/>
<polyline points="72.30,254.20 77.70,260.00 95.40,195.80" fill="none" stroke="#6aa040" stroke-width="0.7" stroke-linejoin="miter"/>
<polyline points="55.60,283.60 94.80,261.30 100.20,261.30 104.40,267.10 107.80,288.80 127.10,303.50" fill="none" stroke="#a08c46" stroke-width="0.7" stroke-linejoin="miter"/>
<polyline points="49.20,282.30 54.30,272.80 57.20,269.40 59.60,269.90 62.00,271.30 64.90,268.90 67.30,269.40 69.70,268.50 72.30,267.00 83.70,269.40 86.00,264.60 91.30,268.00 98.80,267.10 134.00,262.50 137.80,266.50 141.50,273.50" fill="none" stroke="#333333" stroke-width="0.7" stroke-linejoin="miter"/>
<circle cx="93.70" cy="294.80" r="2.05" fill="#b0b0b0" stroke="#606060" stroke-width="0.55"/>
<circle cx="110.40" cy="301.70" r="2.05" fill="#b0b0b0" stroke="#606060" stroke-width="0.55"/>
<circle cx="91.30" cy="297.50" r="2.05" fill="#d4bc98" stroke="#746753" stroke-width="0.55"/>
<circle cx="98.60" cy="289.00" r="2.05" fill="#d4bc98" stroke="#746753" stroke-width="0.55"/>
<circle cx="102.10" cy="290.20" r="2.05" fill="#d4bc98" stroke="#746753" stroke-width="0.55"/>
<circle cx="107.50" cy="305.20" r="2.05" fill="#d4bc98" stroke="#746753" stroke-width="0.55"/>
<circle cx="194.80" cy="269.60" r="2.05" fill="#d4bc98" stroke="#746753" stroke-width="0.55"/>
<circle cx="204.00" cy="244.20" r="2.05" fill="#d4bc98" stroke="#746753" stroke-width="0.55"/>
<circle cx="50.80" cy="301.20" r="2.05" fill="#3aaeae" stroke="#1f5f5f" stroke-width="0.55"/>
<circle cx="138.30" cy="301.40" r="2.05" fill="#3aaeae" stroke="#1f5f5f" stroke-width="0.55"/>
<circle cx="150.60" cy="298.10" r="2.05" fill="#3aaeae" stroke="#1f5f5f" stroke-width="0.55"/>
<circle cx="168.80" cy="280.80" r="2.05" fill="#3aaeae" stroke="#1f5f5f" stroke-width="0.55"/>
<circle cx="185.60" cy="276.30" r="2.05" fill="#3aaeae" stroke="#1f5f5f" stroke-width="0.55"/>
<circle cx="202.50" cy="261.20" r="2.05" fill="#3aaeae" stroke="#1f5f5f" stroke-width="0.55"/>
<circle cx="211.50" cy="248.10" r="2.05" fill="#3aaeae" stroke="#1f5f5f" stroke-width="0.55"/>
<circle cx="215.40" cy="247.50" r="2.05" fill="#3aaeae" stroke="#1f5f5f" stroke-width="0.55"/>
<circle cx="219.20" cy="256.30" r="2.05" fill="#3aaeae" stroke="#1f5f5f" stroke-width="0.55"/>
<circle cx="223.30" cy="251.30" r="2.05" fill="#3aaeae" stroke="#1f5f5f" stroke-width="0.55"/>
<circle cx="76.90" cy="297.70" r="2.05" fill="#b45c9c" stroke="#633255" stroke-width="0.55"/>
<circle cx="98.50" cy="276.90" r="2.05" fill="#b45c9c" stroke="#633255" stroke-width="0.55"/>
<circle cx="156.90" cy="237.90" r="2.05" fill="#b45c9c" stroke="#633255" stroke-width="0.55"/>
<circle cx="172.30" cy="232.10" r="2.05" fill="#b45c9c" stroke="#633255" stroke-width="0.55"/>
<circle cx="70.20" cy="282.90" r="2.05" fill="#5c6ab2" stroke="#323a61" stroke-width="0.55"/>
<circle cx="74.50" cy="287.70" r="2.05" fill="#5c6ab2" stroke="#323a61" stroke-width="0.55"/>
<circle cx="94.20" cy="243.10" r="2.05" fill="#5c6ab2" stroke="#323a61" stroke-width="0.55"/>
<circle cx="67.80" cy="278.10" r="2.05" fill="#6e5a9e" stroke="#3c3156" stroke-width="0.55"/>
<circle cx="95.70" cy="237.70" r="2.05" fill="#6e5a9e" stroke="#3c3156" stroke-width="0.55"/>
<circle cx="107.40" cy="226.90" r="2.05" fill="#6e5a9e" stroke="#3c3156" stroke-width="0.55"/>
<circle cx="111.20" cy="222.30" r="2.05" fill="#6e5a9e" stroke="#3c3156" stroke-width="0.55"/>
<circle cx="115.10" cy="223.80" r="2.05" fill="#6e5a9e" stroke="#3c3156" stroke-width="0.55"/>
<circle cx="118.90" cy="222.80" r="2.05" fill="#6e5a9e" stroke="#3c3156" stroke-width="0.55"/>
<circle cx="124.60" cy="236.20" r="2.05" fill="#6e5a9e" stroke="#3c3156" stroke-width="0.55"/>
<circle cx="60.00" cy="307.00" r="2.05" fill="#b8586a" stroke="#65303a" stroke-width="0.55"/>
<circle cx="82.30" cy="242.30" r="2.05" fill="#b8586a" stroke="#65303a" stroke-width="0.55"/>
<circle cx="105.40" cy="232.80" r="2.05" fill="#b8586a" stroke="#65303a" stroke-width="0.55"/>
<circle cx="72.30" cy="254.20" r="2.05" fill="#6aa040" stroke="#3a5823" stroke-width="0.55"/>
<circle cx="77.70" cy="260.00" r="2.05" fill="#6aa040" stroke="#3a5823" stroke-width="0.55"/>
<circle cx="95.40" cy="195.80" r="2.05" fill="#6aa040" stroke="#3a5823" stroke-width="0.55"/>
<circle cx="55.60" cy="283.60" r="2.05" fill="#a08c46" stroke="#584d26" stroke-width="0.55"/>
<circle cx="94.80" cy="261.30" r="2.05" fill="#a08c46" stroke="#584d26" stroke-width="0.55"/>
<circle cx="100.20" cy="261.30" r="2.05" fill="#a08c46" stroke="#584d26" stroke-width="0.55"/>
<circle cx="104.40" cy="267.10" r="2.05" fill="#a08c46" stroke="#584d26" stroke-width="0.55"/>
<circle cx="107.80" cy="288.80" r="2.05" fill="#a08c46" stroke="#584d26" stroke-width="0.55"/>
<circle cx="127.10" cy="303.50" r="2.05" fill="#a08c46" stroke="#584d26" stroke-width="0.55"/>
<circle cx="49.20" cy="282.30" r="2.05" fill="#333333" stroke="#1c1c1c" stroke-width="0.55"/>
<circle cx="54.30" cy="272.80" r="2.05" fill="#333333" stroke="#1c1c1c" stroke-width="0.55"/>
<circle cx="57.20" cy="269.40" r="2.05" fill="#333333" stroke="#1c1c1c" stroke-width="0.55"/>
<circle cx="59.60" cy="269.90" r="2.05" fill="#333333" stroke="#1c1c1c" stroke-width="0.55"/>
<circle cx="62.00" cy="271.30" r="2.05" fill="#333333" stroke="#1c1c1c" stroke-width="0.55"/>
<circle cx="64.90" cy="268.90" r="2.05" fill="#333333" stroke="#1c1c1c" stroke-width="0.55"/>
<circle cx="67.30" cy="269.40" r="2.05" fill="#333333" stroke="#1c1c1c" stroke-width="0.55"/>
<circle cx="69.70" cy="268.50" r="2.05" fill="#333333" stroke="#1c1c1c" stroke-width="0.55"/>
<circle cx="72.30" cy="267.00" r="2.05" fill="#333333" stroke="#1c1c1c" stroke-width="0.55"/>
<circle cx="83.70" cy="269.40" r="2.05" fill="#333333" stroke="#1c1c1c" stroke-width="0.55"/>
<circle cx="86.00" cy="264.60" r="2.05" fill="#333333" stroke="#1c1c1c" stroke-width="0.55"/>
<circle cx="91.30" cy="268.00" r="2.05" fill="#333333" stroke="#1c1c1c" stroke-width="0.55"/>
<circle cx="98.80" cy="267.10" r="2.05" fill="#333333" stroke="#1c1c1c" stroke-width="0.55"/>
<circle cx="134.00" cy="262.50" r="2.05" fill="#333333" stroke="#1c1c1c" stroke-width="0.55"/>
<circle cx="137.80" cy="266.50" r="2.05" fill="#333333" stroke="#1c1c1c" stroke-width="0.55"/>
<circle cx="141.50" cy="273.50" r="2.05" fill="#333333" stroke="#1c1c1c" stroke-width="0.55"/>
<text x="0.80" y="384.22" font-size="12.6" text-anchor="start" fill="#1a1a1a" stroke="#1a1a1a" stroke-width="0.15" font-weight="bold">C</text>
<line x1="38.90" y1="388.80" x2="38.90" y2="496.80" stroke="#ebebeb" stroke-width="0.6"/>
<line x1="52.62" y1="388.80" x2="52.62" y2="496.80" stroke="#ebebeb" stroke-width="0.6"/>
<line x1="66.35" y1="388.80" x2="66.35" y2="496.80" stroke="#ebebeb" stroke-width="0.6"/>
<line x1="80.07" y1="388.80" x2="80.07" y2="496.80" stroke="#ebebeb" stroke-width="0.6"/>
<line x1="93.80" y1="388.80" x2="93.80" y2="496.80" stroke="#ebebeb" stroke-width="0.6"/>
<line x1="107.52" y1="388.80" x2="107.52" y2="496.80" stroke="#ebebeb" stroke-width="0.6"/>
<line x1="121.25" y1="388.80" x2="121.25" y2="496.80" stroke="#ebebeb" stroke-width="0.6"/>
<line x1="134.97" y1="388.80" x2="134.97" y2="496.80" stroke="#ebebeb" stroke-width="0.6"/>
<line x1="148.70" y1="388.80" x2="148.70" y2="496.80" stroke="#ebebeb" stroke-width="0.6"/>
<line x1="162.42" y1="388.80" x2="162.42" y2="496.80" stroke="#ebebeb" stroke-width="0.6"/>
<line x1="176.15" y1="388.80" x2="176.15" y2="496.80" stroke="#ebebeb" stroke-width="0.6"/>
<line x1="189.88" y1="388.80" x2="189.88" y2="496.80" stroke="#ebebeb" stroke-width="0.6"/>
<line x1="203.60" y1="388.80" x2="203.60" y2="496.80" stroke="#ebebeb" stroke-width="0.6"/>
<line x1="217.32" y1="388.80" x2="217.32" y2="496.80" stroke="#ebebeb" stroke-width="0.6"/>
<line x1="231.05" y1="388.80" x2="231.05" y2="496.80" stroke="#ebebeb" stroke-width="0.6"/>
<line x1="30.30" y1="488.06" x2="239.60" y2="488.06" stroke="#ebebeb" stroke-width="0.6"/>
<line x1="30.30" y1="479.23" x2="239.60" y2="479.23" stroke="#ebebeb" stroke-width="0.6"/>
<line x1="30.30" y1="470.40" x2="239.60" y2="470.40" stroke="#ebebeb" stroke-width="0.6"/>
<line x1="30.30" y1="461.57" x2="239.60" y2="461.57" stroke="#ebebeb" stroke-width="0.6"/>
<line x1="30.30" y1="452.74" x2="239.60" y2="452.74" stroke="#ebebeb" stroke-width="0.6"/>
<line x1="30.30" y1="443.91" x2="239.60" y2="443.91" stroke="#ebebeb" stroke-width="0.6"/>
<line x1="30.30" y1="435.08" x2="239.60" y2="435.08" stroke="#ebebeb" stroke-width="0.6"/>
<line x1="30.30" y1="426.25" x2="239.60" y2="426.25" stroke="#ebebeb" stroke-width="0.6"/>
<line x1="30.30" y1="417.42" x2="239.60" y2="417.42" stroke="#ebebeb" stroke-width="0.6"/>
<line x1="30.30" y1="408.59" x2="239.60" y2="408.59" stroke="#ebebeb" stroke-width="0.6"/>
<line x1="30.30" y1="399.76" x2="239.60" y2="399.76" stroke="#ebebeb" stroke-width="0.6"/>
<line x1="30.30" y1="390.93" x2="239.60" y2="390.93" stroke="#ebebeb" stroke-width="0.6"/>
<rect x="30.30" y="388.80" width="209.30" height="108.00" fill="none" stroke="#7a7a7a" stroke-width="0.9"/>
<line x1="30.30" y1="495.09" x2="32.60" y2="495.09" stroke="#333333" stroke-width="0.75"/>
<line x1="30.30" y1="493.38" x2="33.90" y2="493.38" stroke="#333333" stroke-width="0.8"/>
<line x1="30.30" y1="491.98" x2="32.60" y2="491.98" stroke="#333333" stroke-width="0.75"/>
<line x1="30.30" y1="490.80" x2="32.60" y2="490.80" stroke="#333333" stroke-width="0.75"/>
<line x1="30.30" y1="489.77" x2="32.60" y2="489.77" stroke="#333333" stroke-width="0.75"/>
<line x1="30.30" y1="488.87" x2="32.60" y2="488.87" stroke="#333333" stroke-width="0.75"/>
<line x1="30.30" y1="488.06" x2="35.80" y2="488.06" stroke="#333333" stroke-width="0.9"/>
<line x1="30.30" y1="482.74" x2="32.60" y2="482.74" stroke="#333333" stroke-width="0.75"/>
<line x1="30.30" y1="479.63" x2="32.60" y2="479.63" stroke="#333333" stroke-width="0.75"/>
<line x1="30.30" y1="477.43" x2="32.60" y2="477.43" stroke="#333333" stroke-width="0.75"/>
<line x1="30.30" y1="475.72" x2="33.90" y2="475.72" stroke="#333333" stroke-width="0.8"/>
<line x1="30.30" y1="474.32" x2="32.60" y2="474.32" stroke="#333333" stroke-width="0.75"/>
<line x1="30.30" y1="473.14" x2="32.60" y2="473.14" stroke="#333333" stroke-width="0.75"/>
<line x1="30.30" y1="472.11" x2="32.60" y2="472.11" stroke="#333333" stroke-width="0.75"/>
<line x1="30.30" y1="471.21" x2="32.60" y2="471.21" stroke="#333333" stroke-width="0.75"/>
<line x1="30.30" y1="470.40" x2="35.80" y2="470.40" stroke="#333333" stroke-width="0.9"/>
<line x1="30.30" y1="465.08" x2="32.60" y2="465.08" stroke="#333333" stroke-width="0.75"/>
<line x1="30.30" y1="461.97" x2="32.60" y2="461.97" stroke="#333333" stroke-width="0.75"/>
<line x1="30.30" y1="459.77" x2="32.60" y2="459.77" stroke="#333333" stroke-width="0.75"/>
<line x1="30.30" y1="458.06" x2="33.90" y2="458.06" stroke="#333333" stroke-width="0.8"/>
<line x1="30.30" y1="456.66" x2="32.60" y2="456.66" stroke="#333333" stroke-width="0.75"/>
<line x1="30.30" y1="455.48" x2="32.60" y2="455.48" stroke="#333333" stroke-width="0.75"/>
<line x1="30.30" y1="454.45" x2="32.60" y2="454.45" stroke="#333333" stroke-width="0.75"/>
<line x1="30.30" y1="453.55" x2="32.60" y2="453.55" stroke="#333333" stroke-width="0.75"/>
<line x1="30.30" y1="452.74" x2="35.80" y2="452.74" stroke="#333333" stroke-width="0.9"/>
<line x1="30.30" y1="447.42" x2="32.60" y2="447.42" stroke="#333333" stroke-width="0.75"/>
<line x1="30.30" y1="444.31" x2="32.60" y2="444.31" stroke="#333333" stroke-width="0.75"/>
<line x1="30.30" y1="442.11" x2="32.60" y2="442.11" stroke="#333333" stroke-width="0.75"/>
<line x1="30.30" y1="440.40" x2="33.90" y2="440.40" stroke="#333333" stroke-width="0.8"/>
<line x1="30.30" y1="439.00" x2="32.60" y2="439.00" stroke="#333333" stroke-width="0.75"/>
<line x1="30.30" y1="437.82" x2="32.60" y2="437.82" stroke="#333333" stroke-width="0.75"/>
<line x1="30.30" y1="436.79" x2="32.60" y2="436.79" stroke="#333333" stroke-width="0.75"/>
<line x1="30.30" y1="435.89" x2="32.60" y2="435.89" stroke="#333333" stroke-width="0.75"/>
<line x1="30.30" y1="435.08" x2="35.80" y2="435.08" stroke="#333333" stroke-width="0.9"/>
<line x1="30.30" y1="429.76" x2="32.60" y2="429.76" stroke="#333333" stroke-width="0.75"/>
<line x1="30.30" y1="426.65" x2="32.60" y2="426.65" stroke="#333333" stroke-width="0.75"/>
<line x1="30.30" y1="424.45" x2="32.60" y2="424.45" stroke="#333333" stroke-width="0.75"/>
<line x1="30.30" y1="422.74" x2="33.90" y2="422.74" stroke="#333333" stroke-width="0.8"/>
<line x1="30.30" y1="421.34" x2="32.60" y2="421.34" stroke="#333333" stroke-width="0.75"/>
<line x1="30.30" y1="420.16" x2="32.60" y2="420.16" stroke="#333333" stroke-width="0.75"/>
<line x1="30.30" y1="419.13" x2="32.60" y2="419.13" stroke="#333333" stroke-width="0.75"/>
<line x1="30.30" y1="418.23" x2="32.60" y2="418.23" stroke="#333333" stroke-width="0.75"/>
<line x1="30.30" y1="417.42" x2="35.80" y2="417.42" stroke="#333333" stroke-width="0.9"/>
<line x1="30.30" y1="412.10" x2="32.60" y2="412.10" stroke="#333333" stroke-width="0.75"/>
<line x1="30.30" y1="408.99" x2="32.60" y2="408.99" stroke="#333333" stroke-width="0.75"/>
<line x1="30.30" y1="406.79" x2="32.60" y2="406.79" stroke="#333333" stroke-width="0.75"/>
<line x1="30.30" y1="405.08" x2="33.90" y2="405.08" stroke="#333333" stroke-width="0.8"/>
<line x1="30.30" y1="403.68" x2="32.60" y2="403.68" stroke="#333333" stroke-width="0.75"/>
<line x1="30.30" y1="402.50" x2="32.60" y2="402.50" stroke="#333333" stroke-width="0.75"/>
<line x1="30.30" y1="401.47" x2="32.60" y2="401.47" stroke="#333333" stroke-width="0.75"/>
<line x1="30.30" y1="400.57" x2="32.60" y2="400.57" stroke="#333333" stroke-width="0.75"/>
<line x1="30.30" y1="399.76" x2="35.80" y2="399.76" stroke="#333333" stroke-width="0.9"/>
<line x1="30.30" y1="394.44" x2="32.60" y2="394.44" stroke="#333333" stroke-width="0.75"/>
<line x1="30.30" y1="391.33" x2="32.60" y2="391.33" stroke="#333333" stroke-width="0.75"/>
<line x1="30.30" y1="389.13" x2="32.60" y2="389.13" stroke="#333333" stroke-width="0.75"/>
<line x1="24.70" y1="488.06" x2="30.30" y2="488.06" stroke="#333333" stroke-width="0.8"/>
<text x="22.60" y="491.29" font-size="6.8" text-anchor="end" fill="#1a1a1a" stroke="#1a1a1a" stroke-width="0.15">10<tspan font-size="4.90" dy="-2.9">−1</tspan></text>
<line x1="24.70" y1="470.40" x2="30.30" y2="470.40" stroke="#333333" stroke-width="0.8"/>
<text x="22.60" y="473.63" font-size="6.8" text-anchor="end" fill="#1a1a1a" stroke="#1a1a1a" stroke-width="0.15">10<tspan font-size="4.90" dy="-2.9">0</tspan></text>
<line x1="24.70" y1="452.74" x2="30.30" y2="452.74" stroke="#333333" stroke-width="0.8"/>
<text x="22.60" y="455.97" font-size="6.8" text-anchor="end" fill="#1a1a1a" stroke="#1a1a1a" stroke-width="0.15">10<tspan font-size="4.90" dy="-2.9">1</tspan></text>
<line x1="24.70" y1="435.08" x2="30.30" y2="435.08" stroke="#333333" stroke-width="0.8"/>
<text x="22.60" y="438.31" font-size="6.8" text-anchor="end" fill="#1a1a1a" stroke="#1a1a1a" stroke-width="0.15">10<tspan font-size="4.90" dy="-2.9">2</tspan></text>
<line x1="24.70" y1="417.42" x2="30.30" y2="417.42" stroke="#333333" stroke-width="0.8"/>
<text x="22.60" y="420.65" font-size="6.8" text-anchor="end" fill="#1a1a1a" stroke="#1a1a1a" stroke-width="0.15">10<tspan font-size="4.90" dy="-2.9">3</tspan></text>
<line x1="24.70" y1="399.76" x2="30.30" y2="399.76" stroke="#333333" stroke-width="0.8"/>
<text x="22.60" y="402.99" font-size="6.8" text-anchor="end" fill="#1a1a1a" stroke="#1a1a1a" stroke-width="0.15">10<tspan font-size="4.90" dy="-2.9">4</tspan></text>
<line x1="38.90" y1="496.80" x2="38.90" y2="503.20" stroke="#333333" stroke-width="0.75"/>
<text x="38.90" y="512.93" font-size="6.8" text-anchor="middle" fill="#1a1a1a" stroke="#1a1a1a" stroke-width="0.15">−300</text>
<line x1="66.35" y1="496.80" x2="66.35" y2="503.20" stroke="#333333" stroke-width="0.75"/>
<text x="66.35" y="512.93" font-size="6.8" text-anchor="middle" fill="#1a1a1a" stroke="#1a1a1a" stroke-width="0.15">−250</text>
<line x1="93.80" y1="496.80" x2="93.80" y2="503.20" stroke="#333333" stroke-width="0.75"/>
<text x="93.80" y="512.93" font-size="6.8" text-anchor="middle" fill="#1a1a1a" stroke="#1a1a1a" stroke-width="0.15">−200</text>
<line x1="121.25" y1="496.80" x2="121.25" y2="503.20" stroke="#333333" stroke-width="0.75"/>
<text x="121.25" y="512.93" font-size="6.8" text-anchor="middle" fill="#1a1a1a" stroke="#1a1a1a" stroke-width="0.15">−150</text>
<line x1="148.70" y1="496.80" x2="148.70" y2="503.20" stroke="#333333" stroke-width="0.75"/>
<text x="148.70" y="512.93" font-size="6.8" text-anchor="middle" fill="#1a1a1a" stroke="#1a1a1a" stroke-width="0.15">−100</text>
<line x1="176.15" y1="496.80" x2="176.15" y2="503.20" stroke="#333333" stroke-width="0.75"/>
<text x="176.15" y="512.93" font-size="6.8" text-anchor="middle" fill="#1a1a1a" stroke="#1a1a1a" stroke-width="0.15">−50</text>
<line x1="203.60" y1="496.80" x2="203.60" y2="503.20" stroke="#333333" stroke-width="0.75"/>
<text x="203.60" y="512.93" font-size="6.8" text-anchor="middle" fill="#1a1a1a" stroke="#1a1a1a" stroke-width="0.15">0</text>
<line x1="231.05" y1="496.80" x2="231.05" y2="503.20" stroke="#333333" stroke-width="0.75"/>
<text x="231.05" y="512.93" font-size="6.8" text-anchor="middle" fill="#1a1a1a" stroke="#1a1a1a" stroke-width="0.15">50</text>
<text x="134.50" y="525.71" font-size="6.72" text-anchor="middle" fill="#1a1a1a" stroke="#1a1a1a" stroke-width="0.15">Days before/after clinical recurrence</text>
<text x="8.21" y="445.00" font-size="6.45" text-anchor="middle" fill="#1a1a1a" stroke="#1a1a1a" stroke-width="0.15" transform="rotate(-90 8.21 445.00)">ctDNA level (copies/mL)</text>
<line x1="203.60" y1="388.80" x2="203.60" y2="496.80" stroke="#555" stroke-width="1.15" stroke-dasharray="5.5,4.5"/>
<line x1="87.50" y1="471.30" x2="205.00" y2="451.50" stroke="#b8a470" stroke-width="1.05" stroke-dasharray="5.2,4.5"/>
<line x1="69.50" y1="462.50" x2="219.00" y2="454.10" stroke="#555555" stroke-width="1.05" stroke-dasharray="5.2,4.5"/>
<line x1="139.30" y1="452.00" x2="207.80" y2="393.10" stroke="#6aa040" stroke-width="0.75"/>
<line x1="101.80" y1="492.70" x2="167.90" y2="434.00" stroke="#b8586a" stroke-width="0.75"/>
<line x1="136.70" y1="461.50" x2="208.30" y2="429.80" stroke="#6e5a9e" stroke-width="0.75"/>
<line x1="133.30" y1="475.70" x2="203.30" y2="434.00" stroke="#5c6ab2" stroke-width="0.75"/>
<line x1="151.40" y1="484.00" x2="216.20" y2="464.80" stroke="#b45c9c" stroke-width="0.75"/>
<line x1="195.70" y1="483.50" x2="216.20" y2="475.90" stroke="#d4bc98" stroke-width="0.75"/>
<text x="8.80" y="543.59" font-size="6.4" text-anchor="start" fill="#1a1a1a" stroke="#1a1a1a" stroke-width="0.15">Lead-time</text>
<line x1="8.80" y1="554.30" x2="18.50" y2="554.30" stroke="#555" stroke-width="1.1"/>
<text x="21.30" y="556.73" font-size="6.8" text-anchor="start" fill="#1a1a1a" stroke="#1a1a1a" stroke-width="0.15">Shorter lead-time</text>
<line x1="8.70" y1="564.60" x2="10.60" y2="564.60" stroke="#555" stroke-width="1.1"/>
<line x1="16.30" y1="564.60" x2="18.30" y2="564.60" stroke="#555" stroke-width="1.1"/>
<text x="21.30" y="567.03" font-size="6.8" text-anchor="start" fill="#1a1a1a" stroke="#1a1a1a" stroke-width="0.15">Longer lead-time</text>
<text x="78.80" y="544.19" font-size="6.4" text-anchor="start" fill="#1a1a1a" stroke="#1a1a1a" stroke-width="0.15">Patient ID</text>
<line x1="80.80" y1="552.90" x2="90.20" y2="552.90" stroke="#d4bc98" stroke-width="1.5"/>
<circle cx="85.50" cy="552.90" r="2.2" fill="#d4bc98"/>
<text x="92.60" y="555.26" font-size="6.6" text-anchor="start" fill="#1a1a1a" stroke="#1a1a1a" stroke-width="0.15">3472</text>
<line x1="112.30" y1="552.90" x2="121.70" y2="552.90" stroke="#6e5a9e" stroke-width="1.5"/>
<circle cx="117.00" cy="552.90" r="2.2" fill="#6e5a9e"/>
<text x="124.10" y="555.26" font-size="6.6" text-anchor="start" fill="#1a1a1a" stroke="#1a1a1a" stroke-width="0.15">4105</text>
<line x1="143.50" y1="552.90" x2="152.90" y2="552.90" stroke="#b45c9c" stroke-width="1.5"/>
<circle cx="148.20" cy="552.90" r="2.2" fill="#b45c9c"/>
<text x="155.30" y="555.26" font-size="6.6" text-anchor="start" fill="#1a1a1a" stroke="#1a1a1a" stroke-width="0.15">4189</text>
<line x1="175.40" y1="552.90" x2="184.80" y2="552.90" stroke="#b8586a" stroke-width="1.5"/>
<circle cx="180.10" cy="552.90" r="2.2" fill="#b8586a"/>
<text x="187.20" y="555.26" font-size="6.6" text-anchor="start" fill="#1a1a1a" stroke="#1a1a1a" stroke-width="0.15">4265</text>
<line x1="206.50" y1="552.90" x2="215.90" y2="552.90" stroke="#a08c46" stroke-width="1.5"/>
<circle cx="211.20" cy="552.90" r="2.2" fill="#a08c46"/>
<text x="218.30" y="555.26" font-size="6.6" text-anchor="start" fill="#1a1a1a" stroke="#1a1a1a" stroke-width="0.15">4422</text>
<line x1="80.80" y1="565.40" x2="90.20" y2="565.40" stroke="#3aaeae" stroke-width="1.5"/>
<circle cx="85.50" cy="565.40" r="2.2" fill="#3aaeae"/>
<text x="92.60" y="567.76" font-size="6.6" text-anchor="start" fill="#1a1a1a" stroke="#1a1a1a" stroke-width="0.15">3731</text>
<line x1="112.30" y1="565.40" x2="121.70" y2="565.40" stroke="#6aa040" stroke-width="1.5"/>
<circle cx="117.00" cy="565.40" r="2.2" fill="#6aa040"/>
<text x="124.10" y="567.76" font-size="6.6" text-anchor="start" fill="#1a1a1a" stroke="#1a1a1a" stroke-width="0.15">4119</text>
<line x1="143.50" y1="565.40" x2="152.90" y2="565.40" stroke="#333333" stroke-width="1.5"/>
<circle cx="148.20" cy="565.40" r="2.2" fill="#333333"/>
<text x="155.30" y="567.76" font-size="6.6" text-anchor="start" fill="#1a1a1a" stroke="#1a1a1a" stroke-width="0.15">4251</text>
<line x1="175.40" y1="565.40" x2="184.80" y2="565.40" stroke="#5c6ab2" stroke-width="1.5"/>
<circle cx="180.10" cy="565.40" r="2.2" fill="#5c6ab2"/>
<text x="187.20" y="567.76" font-size="6.6" text-anchor="start" fill="#1a1a1a" stroke="#1a1a1a" stroke-width="0.15">4403</text>
<line x1="206.50" y1="565.40" x2="215.90" y2="565.40" stroke="#b0b0b0" stroke-width="1.5"/>
<circle cx="211.20" cy="565.40" r="2.2" fill="#b0b0b0"/>
<text x="218.30" y="567.76" font-size="6.6" text-anchor="start" fill="#1a1a1a" stroke="#1a1a1a" stroke-width="0.15">4503</text>
<text x="246.00" y="186.32" font-size="12.6" text-anchor="start" fill="#1a1a1a" stroke="#1a1a1a" stroke-width="0.15" font-weight="bold">G</text>
<text x="252.00" y="256.80" font-size="6.7" text-anchor="middle" fill="#1a1a1a" stroke="#1a1a1a" stroke-width="0.15" transform="rotate(-90 252.00 256.80)">Fraction of patients</text>
<rect x="281.30" y="208.00" width="19.90" height="80.68" fill="#a6aaaa"/>
<rect x="281.30" y="288.68" width="19.90" height="18.62" fill="#6c7473"/>
<text x="292.30" y="243.90" font-size="5.6" text-anchor="middle" fill="#222" stroke="#222" stroke-width="0.1">13</text>
<text x="291.50" y="300.00" font-size="5.6" text-anchor="middle" fill="#222" stroke="#222" stroke-width="0.1">3</text>
<rect x="304.00" y="208.00" width="19.10" height="12.41" fill="#a6aaaa"/>
<rect x="304.00" y="220.41" width="19.10" height="86.89" fill="#6c7473"/>
<text x="313.80" y="216.20" font-size="5.6" text-anchor="middle" fill="#222" stroke="#222" stroke-width="0.1">1</text>
<text x="313.50" y="258.70" font-size="5.6" text-anchor="middle" fill="#222" stroke="#222" stroke-width="0.1">7</text>
<line x1="277.70" y1="197.30" x2="277.70" y2="312.50" stroke="#333333" stroke-width="0.8"/>
<line x1="277.70" y1="312.50" x2="326.50" y2="312.50" stroke="#333333" stroke-width="0.8"/>
<line x1="272.70" y1="307.30" x2="277.70" y2="307.30" stroke="#333333" stroke-width="0.7"/>
<text x="270.40" y="309.73" font-size="6.8" text-anchor="end" fill="#1a1a1a" stroke="#1a1a1a" stroke-width="0.15">0.00</text>
<line x1="272.70" y1="282.48" x2="277.70" y2="282.48" stroke="#333333" stroke-width="0.7"/>
<text x="270.40" y="284.91" font-size="6.8" text-anchor="end" fill="#1a1a1a" stroke="#1a1a1a" stroke-width="0.15">0.25</text>
<line x1="272.70" y1="257.65" x2="277.70" y2="257.65" stroke="#333333" stroke-width="0.7"/>
<text x="270.40" y="260.08" font-size="6.8" text-anchor="end" fill="#1a1a1a" stroke="#1a1a1a" stroke-width="0.15">0.50</text>
<line x1="272.70" y1="232.82" x2="277.70" y2="232.82" stroke="#333333" stroke-width="0.7"/>
<text x="270.40" y="235.26" font-size="6.8" text-anchor="end" fill="#1a1a1a" stroke="#1a1a1a" stroke-width="0.15">0.75</text>
<line x1="272.70" y1="208.00" x2="277.70" y2="208.00" stroke="#333333" stroke-width="0.7"/>
<text x="270.40" y="210.43" font-size="6.8" text-anchor="end" fill="#1a1a1a" stroke="#1a1a1a" stroke-width="0.15">1.00</text>
<line x1="291.50" y1="312.50" x2="291.50" y2="317.90" stroke="#333333" stroke-width="0.7"/>
<line x1="313.50" y1="312.50" x2="313.50" y2="317.90" stroke="#333333" stroke-width="0.7"/>
<text x="304.60" y="204.33" font-size="5.4" text-anchor="middle" fill="#1a1a1a" stroke="#1a1a1a" stroke-width="0.1"><tspan font-style="italic">P</tspan> = 0.002</text>
<text x="293.79" y="324.31" font-size="6.95" text-anchor="end" fill="#1a1a1a" stroke="#1a1a1a" stroke-width="0.15" transform="rotate(-30 293.79 324.31)" >Clearance</text>
<text x="316.19" y="324.31" font-size="6.95" text-anchor="end" fill="#1a1a1a" stroke="#1a1a1a" stroke-width="0.15" transform="rotate(-30 316.19 324.31)" >No clearance</text>
<text x="294.50" y="360.13" font-size="6.5" text-anchor="end" fill="#1a1a1a" stroke="#1a1a1a" stroke-width="0.15">1−year recurrence</text>
<rect x="297.30" y="353.20" width="9.20" height="9.20" fill="#a6aaaa"/>
<text x="308.40" y="360.06" font-size="6.3" text-anchor="start" fill="#1a1a1a" stroke="#1a1a1a" stroke-width="0.15">No</text>
<rect x="320.00" y="353.20" width="9.20" height="9.20" fill="#6c7473"/>
<text x="331.90" y="360.06" font-size="6.3" text-anchor="start" fill="#1a1a1a" stroke="#1a1a1a" stroke-width="0.15">Yes</text>
<text x="245.80" y="384.22" font-size="12.6" text-anchor="start" fill="#1a1a1a" stroke="#1a1a1a" stroke-width="0.15" font-weight="bold">I</text>
<text x="251.10" y="448.50" font-size="6.7" text-anchor="middle" fill="#1a1a1a" stroke="#1a1a1a" stroke-width="0.15" transform="rotate(-90 251.10 448.50)">Fraction of patients</text>
<rect x="281.30" y="403.30" width="19.90" height="80.09" fill="#a6aaaa"/>
<rect x="281.30" y="483.39" width="19.90" height="10.01" fill="#6c7473"/>
<text x="291.00" y="439.00" font-size="5.6" text-anchor="middle" fill="#222" stroke="#222" stroke-width="0.1">8</text>
<text x="291.00" y="491.00" font-size="5.6" text-anchor="middle" fill="#222" stroke="#222" stroke-width="0.1">1</text>
<rect x="304.00" y="403.30" width="19.70" height="36.04" fill="#a6aaaa"/>
<rect x="304.00" y="439.34" width="19.70" height="54.06" fill="#6c7473"/>
<text x="313.00" y="421.40" font-size="5.6" text-anchor="middle" fill="#222" stroke="#222" stroke-width="0.1">6</text>
<text x="313.00" y="464.30" font-size="5.6" text-anchor="middle" fill="#222" stroke="#222" stroke-width="0.1">9</text>
<line x1="278.50" y1="394.00" x2="278.50" y2="498.10" stroke="#333333" stroke-width="0.8"/>
<line x1="278.50" y1="498.10" x2="327.50" y2="498.10" stroke="#333333" stroke-width="0.8"/>
<line x1="273.50" y1="493.40" x2="278.50" y2="493.40" stroke="#333333" stroke-width="0.7"/>
<text x="271.20" y="495.83" font-size="6.8" text-anchor="end" fill="#1a1a1a" stroke="#1a1a1a" stroke-width="0.15">0.00</text>
<line x1="273.50" y1="470.88" x2="278.50" y2="470.88" stroke="#333333" stroke-width="0.7"/>
<text x="271.20" y="473.31" font-size="6.8" text-anchor="end" fill="#1a1a1a" stroke="#1a1a1a" stroke-width="0.15">0.25</text>
<line x1="273.50" y1="448.35" x2="278.50" y2="448.35" stroke="#333333" stroke-width="0.7"/>
<text x="271.20" y="450.78" font-size="6.8" text-anchor="end" fill="#1a1a1a" stroke="#1a1a1a" stroke-width="0.15">0.50</text>
<line x1="273.50" y1="425.82" x2="278.50" y2="425.82" stroke="#333333" stroke-width="0.7"/>
<text x="271.20" y="428.26" font-size="6.8" text-anchor="end" fill="#1a1a1a" stroke="#1a1a1a" stroke-width="0.15">0.75</text>
<line x1="273.50" y1="403.30" x2="278.50" y2="403.30" stroke="#333333" stroke-width="0.7"/>
<text x="271.20" y="405.73" font-size="6.8" text-anchor="end" fill="#1a1a1a" stroke="#1a1a1a" stroke-width="0.15">1.00</text>
<line x1="291.50" y1="498.10" x2="291.50" y2="503.50" stroke="#333333" stroke-width="0.7"/>
<line x1="313.50" y1="498.10" x2="313.50" y2="503.50" stroke="#333333" stroke-width="0.7"/>
<text x="305.40" y="400.43" font-size="5.4" text-anchor="middle" fill="#1a1a1a" stroke="#1a1a1a" stroke-width="0.1"><tspan font-style="italic">P</tspan> = 0.033</text>
<text x="291.50" y="513.63" font-size="6.8" text-anchor="middle" fill="#1a1a1a" stroke="#1a1a1a" stroke-width="0.15">Yes</text>
<text x="313.50" y="513.63" font-size="6.8" text-anchor="middle" fill="#1a1a1a" stroke="#1a1a1a" stroke-width="0.15">No</text>
<text x="299.60" y="525.50" font-size="6.7" text-anchor="middle" fill="#1a1a1a" stroke="#1a1a1a" stroke-width="0.15">Pathologic downstaging</text>
<text x="294.00" y="548.53" font-size="6.5" text-anchor="end" fill="#1a1a1a" stroke="#1a1a1a" stroke-width="0.15">1−year recurrence</text>
<rect x="297.30" y="541.60" width="9.20" height="9.00" fill="#a6aaaa"/>
<text x="308.40" y="548.46" font-size="6.3" text-anchor="start" fill="#1a1a1a" stroke="#1a1a1a" stroke-width="0.15">No</text>
<rect x="320.00" y="541.60" width="9.20" height="9.00" fill="#6c7473"/>
<text x="331.90" y="548.46" font-size="6.3" text-anchor="start" fill="#1a1a1a" stroke="#1a1a1a" stroke-width="0.15">Yes</text>
<text x="341.00" y="186.32" font-size="12.6" text-anchor="start" fill="#1a1a1a" stroke="#1a1a1a" stroke-width="0.15" font-weight="bold">H</text>
<polyline points="382.30,211.25 405.00,211.25 405.00,217.27 439.50,217.27 439.50,223.28 442.50,223.28 442.50,229.30 495.00,229.30 495.00,235.31 498.80,235.31" fill="none" stroke="#22a3ab" stroke-width="0.95" stroke-linejoin="miter"/>
<line x1="446.50" y1="229.30" x2="450.10" y2="229.30" stroke="#22a3ab" stroke-width="0.8"/>
<line x1="448.30" y1="227.50" x2="448.30" y2="231.10" stroke="#22a3ab" stroke-width="0.8"/>
<polyline points="382.30,211.25 392.50,211.25 392.50,223.28 401.80,223.28 401.80,235.31 407.00,235.31 407.00,259.38 425.00,259.38 425.00,271.41 439.30,271.41 439.30,283.44 450.80,283.44 450.80,295.47 498.80,295.47" fill="none" stroke="#b96672" stroke-width="0.95" stroke-linejoin="miter"/>
<line x1="376.50" y1="206.70" x2="376.50" y2="312.30" stroke="#333333" stroke-width="0.85"/>
<line x1="376.10" y1="311.90" x2="498.50" y2="311.90" stroke="#333333" stroke-width="0.85"/>
<line x1="369.10" y1="307.50" x2="376.50" y2="307.50" stroke="#333333" stroke-width="0.75"/>
<text x="368.60" y="309.86" font-size="6.6" text-anchor="end" fill="#1a1a1a" stroke="#1a1a1a" stroke-width="0.15">0.00</text>
<line x1="369.10" y1="283.44" x2="376.50" y2="283.44" stroke="#333333" stroke-width="0.75"/>
<text x="368.60" y="285.80" font-size="6.6" text-anchor="end" fill="#1a1a1a" stroke="#1a1a1a" stroke-width="0.15">0.25</text>
<line x1="369.10" y1="259.38" x2="376.50" y2="259.38" stroke="#333333" stroke-width="0.75"/>
<text x="368.60" y="261.74" font-size="6.6" text-anchor="end" fill="#1a1a1a" stroke="#1a1a1a" stroke-width="0.15">0.50</text>
<line x1="369.10" y1="235.31" x2="376.50" y2="235.31" stroke="#333333" stroke-width="0.75"/>
<text x="368.60" y="237.68" font-size="6.6" text-anchor="end" fill="#1a1a1a" stroke="#1a1a1a" stroke-width="0.15">0.75</text>
<line x1="369.10" y1="211.25" x2="376.50" y2="211.25" stroke="#333333" stroke-width="0.75"/>
<text x="368.60" y="213.61" font-size="6.6" text-anchor="end" fill="#1a1a1a" stroke="#1a1a1a" stroke-width="0.15">1.00</text>
<line x1="382.00" y1="311.90" x2="382.00" y2="318.30" stroke="#333333" stroke-width="0.75"/>
<text x="382.00" y="325.59" font-size="6.4" text-anchor="middle" fill="#1a1a1a" stroke="#1a1a1a" stroke-width="0.15">0</text>
<line x1="409.82" y1="311.90" x2="409.82" y2="318.30" stroke="#333333" stroke-width="0.75"/>
<text x="409.82" y="325.59" font-size="6.4" text-anchor="middle" fill="#1a1a1a" stroke="#1a1a1a" stroke-width="0.15">150</text>
<line x1="437.65" y1="311.90" x2="437.65" y2="318.30" stroke="#333333" stroke-width="0.75"/>
<text x="437.65" y="325.59" font-size="6.4" text-anchor="middle" fill="#1a1a1a" stroke="#1a1a1a" stroke-width="0.15">300</text>
<line x1="465.48" y1="311.90" x2="465.48" y2="318.30" stroke="#333333" stroke-width="0.75"/>
<text x="465.48" y="325.59" font-size="6.4" text-anchor="middle" fill="#1a1a1a" stroke="#1a1a1a" stroke-width="0.15">450</text>
<line x1="493.30" y1="311.90" x2="493.30" y2="318.30" stroke="#333333" stroke-width="0.75"/>
<text x="493.30" y="325.59" font-size="6.4" text-anchor="middle" fill="#1a1a1a" stroke="#1a1a1a" stroke-width="0.15">600</text>
<text x="438.95" y="335.50" font-size="6.7" text-anchor="middle" fill="#1a1a1a" stroke="#1a1a1a" stroke-width="0.15">Days after RC</text>
<text x="348.76" y="258.00" font-size="6.6" text-anchor="middle" fill="#1a1a1a" stroke="#1a1a1a" stroke-width="0.15" transform="rotate(-90 348.76 258.00)">RFS</text>
<text x="457.00" y="237.56" font-size="7.15" text-anchor="start" fill="#22a3ab" stroke="#22a3ab" stroke-width="0.15">Clearance</text>
<text x="456.80" y="289.76" font-size="7.15" text-anchor="start" fill="#b96672" stroke="#b96672" stroke-width="0.15">No clearance</text>
<text x="382.50" y="296.51" font-size="7.3" text-anchor="start" fill="#1a1a1a" stroke="#1a1a1a" stroke-width="0.15">HR = 6.5 (2−21.4)</text>
<text x="382.50" y="304.11" font-size="7.3" fill="#1a1a1a" stroke="#1a1a1a" stroke-width="0.15"><tspan font-style="italic">P</tspan> = 0.002</text>
<rect x="360.00" y="347.00" width="13.60" height="4.60" fill="#22a3ab"/>
<text x="382.80" y="351.63" font-size="6.5" text-anchor="middle" fill="#1a1a1a" stroke="#1a1a1a" stroke-width="0.15">16</text>
<text x="410.62" y="351.63" font-size="6.5" text-anchor="middle" fill="#1a1a1a" stroke="#1a1a1a" stroke-width="0.15">15</text>
<text x="438.45" y="351.63" font-size="6.5" text-anchor="middle" fill="#1a1a1a" stroke="#1a1a1a" stroke-width="0.15">15</text>
<text x="466.28" y="351.63" font-size="6.5" text-anchor="middle" fill="#1a1a1a" stroke="#1a1a1a" stroke-width="0.15">12</text>
<text x="494.10" y="351.63" font-size="6.5" text-anchor="middle" fill="#1a1a1a" stroke="#1a1a1a" stroke-width="0.15">12</text>
<rect x="360.00" y="357.20" width="13.60" height="4.60" fill="#b96672"/>
<text x="382.80" y="361.83" font-size="6.5" text-anchor="middle" fill="#1a1a1a" stroke="#1a1a1a" stroke-width="0.15">8</text>
<text x="410.62" y="361.83" font-size="6.5" text-anchor="middle" fill="#1a1a1a" stroke="#1a1a1a" stroke-width="0.15">4</text>
<text x="438.45" y="361.83" font-size="6.5" text-anchor="middle" fill="#1a1a1a" stroke="#1a1a1a" stroke-width="0.15">3</text>
<text x="466.28" y="361.83" font-size="6.5" text-anchor="middle" fill="#1a1a1a" stroke="#1a1a1a" stroke-width="0.15">1</text>
<text x="494.10" y="361.83" font-size="6.5" text-anchor="middle" fill="#1a1a1a" stroke="#1a1a1a" stroke-width="0.15">1</text>
<text x="341.20" y="384.22" font-size="12.6" text-anchor="start" fill="#1a1a1a" stroke="#1a1a1a" stroke-width="0.15" font-weight="bold">J</text>
<polyline points="383.00,398.20 405.75,398.20 405.75,408.75 498.80,408.75" fill="none" stroke="#509466" stroke-width="0.95" stroke-linejoin="miter"/>
<line x1="446.50" y1="408.75" x2="450.10" y2="408.75" stroke="#509466" stroke-width="0.8"/>
<line x1="448.30" y1="406.95" x2="448.30" y2="410.55" stroke="#509466" stroke-width="0.8"/>
<polyline points="383.00,398.20 392.50,398.20 392.50,403.75 401.75,403.75 401.75,410.50 407.00,410.50 407.00,423.75 425.00,423.75 425.00,430.00 438.75,430.00 438.75,442.00 442.50,442.00 442.50,449.50 450.50,449.50 450.50,455.75 495.00,455.75 495.00,462.50 498.80,462.50" fill="none" stroke="#bb5e98" stroke-width="0.95" stroke-linejoin="miter"/>
<line x1="376.60" y1="393.00" x2="376.60" y2="498.70" stroke="#333333" stroke-width="0.85"/>
<line x1="376.20" y1="498.30" x2="499.20" y2="498.30" stroke="#333333" stroke-width="0.85"/>
<line x1="369.20" y1="493.80" x2="376.60" y2="493.80" stroke="#333333" stroke-width="0.75"/>
<text x="368.70" y="496.16" font-size="6.6" text-anchor="end" fill="#1a1a1a" stroke="#1a1a1a" stroke-width="0.15">0.00</text>
<line x1="369.20" y1="469.90" x2="376.60" y2="469.90" stroke="#333333" stroke-width="0.75"/>
<text x="368.70" y="472.26" font-size="6.6" text-anchor="end" fill="#1a1a1a" stroke="#1a1a1a" stroke-width="0.15">0.25</text>
<line x1="369.20" y1="446.00" x2="376.60" y2="446.00" stroke="#333333" stroke-width="0.75"/>
<text x="368.70" y="448.36" font-size="6.6" text-anchor="end" fill="#1a1a1a" stroke="#1a1a1a" stroke-width="0.15">0.50</text>
<line x1="369.20" y1="422.10" x2="376.60" y2="422.10" stroke="#333333" stroke-width="0.75"/>
<text x="368.70" y="424.46" font-size="6.6" text-anchor="end" fill="#1a1a1a" stroke="#1a1a1a" stroke-width="0.15">0.75</text>
<line x1="369.20" y1="398.20" x2="376.60" y2="398.20" stroke="#333333" stroke-width="0.75"/>
<text x="368.70" y="400.56" font-size="6.6" text-anchor="end" fill="#1a1a1a" stroke="#1a1a1a" stroke-width="0.15">1.00</text>
<line x1="382.10" y1="498.30" x2="382.10" y2="504.70" stroke="#333333" stroke-width="0.75"/>
<text x="382.10" y="512.59" font-size="6.4" text-anchor="middle" fill="#1a1a1a" stroke="#1a1a1a" stroke-width="0.15">0</text>
<line x1="409.90" y1="498.30" x2="409.90" y2="504.70" stroke="#333333" stroke-width="0.75"/>
<text x="409.90" y="512.59" font-size="6.4" text-anchor="middle" fill="#1a1a1a" stroke="#1a1a1a" stroke-width="0.15">150</text>
<line x1="437.69" y1="498.30" x2="437.69" y2="504.70" stroke="#333333" stroke-width="0.75"/>
<text x="437.69" y="512.59" font-size="6.4" text-anchor="middle" fill="#1a1a1a" stroke="#1a1a1a" stroke-width="0.15">300</text>
<line x1="465.49" y1="498.30" x2="465.49" y2="504.70" stroke="#333333" stroke-width="0.75"/>
<text x="465.49" y="512.59" font-size="6.4" text-anchor="middle" fill="#1a1a1a" stroke="#1a1a1a" stroke-width="0.15">450</text>
<line x1="493.28" y1="498.30" x2="493.28" y2="504.70" stroke="#333333" stroke-width="0.75"/>
<text x="493.28" y="512.59" font-size="6.4" text-anchor="middle" fill="#1a1a1a" stroke="#1a1a1a" stroke-width="0.15">600</text>
<text x="438.99" y="525.30" font-size="6.7" text-anchor="middle" fill="#1a1a1a" stroke="#1a1a1a" stroke-width="0.15">Days after RC</text>
<text x="348.76" y="445.50" font-size="6.6" text-anchor="middle" fill="#1a1a1a" stroke="#1a1a1a" stroke-width="0.15" transform="rotate(-90 348.76 445.50)">RFS</text>
<text x="454.50" y="418.26" font-size="6.6" text-anchor="start" fill="#509466" stroke="#509466" stroke-width="0.15">Pathological</text>
<text x="454.50" y="425.86" font-size="6.6" text-anchor="start" fill="#509466" stroke="#509466" stroke-width="0.15">downstaging</text>
<text x="454.50" y="444.46" font-size="6.6" text-anchor="start" fill="#bb5e98" stroke="#bb5e98" stroke-width="0.15">No pathological</text>
<text x="454.50" y="452.26" font-size="6.6" text-anchor="start" fill="#bb5e98" stroke="#bb5e98" stroke-width="0.15">downstaging</text>
<text x="383.00" y="482.30" font-size="6.7" text-anchor="start" fill="#1a1a1a" stroke="#1a1a1a" stroke-width="0.15">HR = 4.2 (0.9−19.3)</text>
<text x="383.00" y="490.20" font-size="6.7" fill="#1a1a1a" stroke="#1a1a1a" stroke-width="0.15"><tspan font-style="italic">P</tspan> = 0.07</text>
<rect x="360.00" y="535.10" width="13.60" height="4.60" fill="#509466"/>
<text x="382.90" y="539.73" font-size="6.5" text-anchor="middle" fill="#1a1a1a" stroke="#1a1a1a" stroke-width="0.15">9</text>
<text x="410.70" y="539.73" font-size="6.5" text-anchor="middle" fill="#1a1a1a" stroke="#1a1a1a" stroke-width="0.15">8</text>
<text x="438.49" y="539.73" font-size="6.5" text-anchor="middle" fill="#1a1a1a" stroke="#1a1a1a" stroke-width="0.15">8</text>
<text x="466.29" y="539.73" font-size="6.5" text-anchor="middle" fill="#1a1a1a" stroke="#1a1a1a" stroke-width="0.15">7</text>
<text x="494.08" y="539.73" font-size="6.5" text-anchor="middle" fill="#1a1a1a" stroke="#1a1a1a" stroke-width="0.15">7</text>
<rect x="360.00" y="545.30" width="13.60" height="4.60" fill="#bb5e98"/>
<text x="382.90" y="549.93" font-size="6.5" text-anchor="middle" fill="#1a1a1a" stroke="#1a1a1a" stroke-width="0.15">15</text>
<text x="410.70" y="549.93" font-size="6.5" text-anchor="middle" fill="#1a1a1a" stroke="#1a1a1a" stroke-width="0.15">11</text>
<text x="438.49" y="549.93" font-size="6.5" text-anchor="middle" fill="#1a1a1a" stroke="#1a1a1a" stroke-width="0.15">10</text>
<text x="466.29" y="549.93" font-size="6.5" text-anchor="middle" fill="#1a1a1a" stroke="#1a1a1a" stroke-width="0.15">6</text>
<text x="494.08" y="549.93" font-size="6.5" text-anchor="middle" fill="#1a1a1a" stroke="#1a1a1a" stroke-width="0.15">6</text>
</svg>
</body></html>
